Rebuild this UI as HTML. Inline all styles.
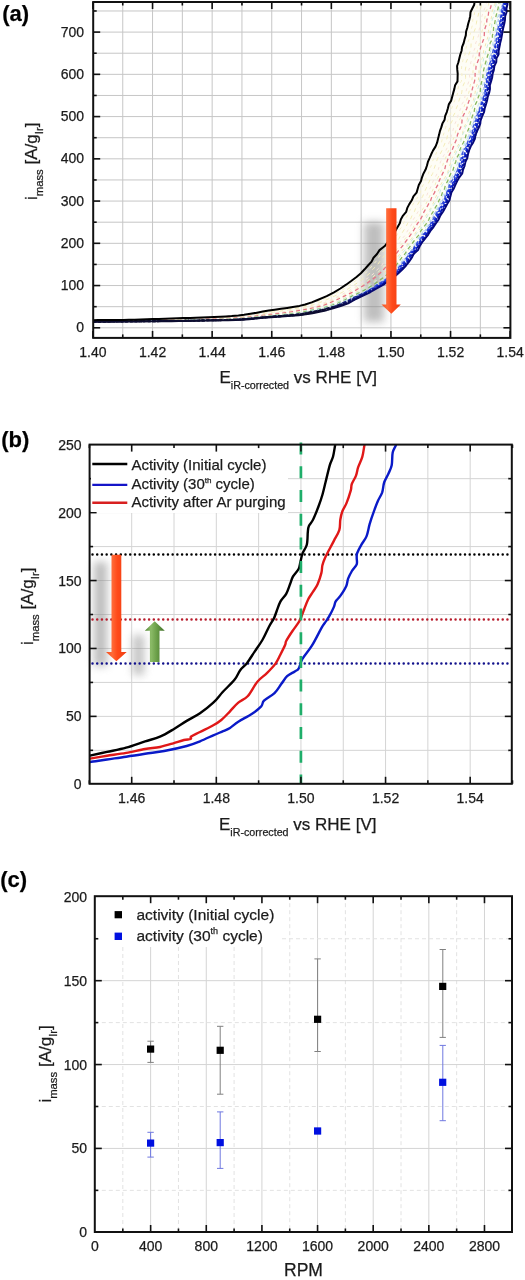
<!DOCTYPE html><html><head><meta charset="utf-8"><style>html,body{margin:0;padding:0;background:#fff;width:525px;height:1280px;overflow:hidden}svg{display:block}text{font-family:'Liberation Sans',Arial,sans-serif;stroke:#222;stroke-width:0.25px}</style></head><body>
<svg width="525" height="1280" viewBox="0 0 525 1280">
<defs><filter id="blur6" x="-100%" y="-20%" width="300%" height="140%"><feGaussianBlur stdDeviation="4"/></filter><linearGradient id="og" x1="0" x2="1" y1="0" y2="0"><stop offset="0" stop-color="#f5501e"/><stop offset="0.3" stop-color="#ff6a38"/><stop offset="0.55" stop-color="#ff4a1a"/><stop offset="1" stop-color="#ee3c10"/></linearGradient><linearGradient id="gg" x1="0" x2="1" y1="0" y2="0"><stop offset="0" stop-color="#4e7f30"/><stop offset="0.3" stop-color="#8cbc68"/><stop offset="0.6" stop-color="#6a9e48"/><stop offset="1" stop-color="#3f6f28"/></linearGradient></defs>
<line x1="122.75000000000003" y1="2.0" x2="122.75000000000003" y2="337.9" stroke="#c6c6c6" stroke-width="1" />
<line x1="152.55000000000007" y1="2.0" x2="152.55000000000007" y2="337.9" stroke="#c6c6c6" stroke-width="1" />
<line x1="182.35000000000008" y1="2.0" x2="182.35000000000008" y2="337.9" stroke="#c6c6c6" stroke-width="1" />
<line x1="212.1500000000001" y1="2.0" x2="212.1500000000001" y2="337.9" stroke="#c6c6c6" stroke-width="1" />
<line x1="241.95000000000016" y1="2.0" x2="241.95000000000016" y2="337.9" stroke="#c6c6c6" stroke-width="1" />
<line x1="271.75000000000017" y1="2.0" x2="271.75000000000017" y2="337.9" stroke="#c6c6c6" stroke-width="1" />
<line x1="301.5500000000002" y1="2.0" x2="301.5500000000002" y2="337.9" stroke="#c6c6c6" stroke-width="1" />
<line x1="331.3500000000002" y1="2.0" x2="331.3500000000002" y2="337.9" stroke="#c6c6c6" stroke-width="1" />
<line x1="361.1500000000002" y1="2.0" x2="361.1500000000002" y2="337.9" stroke="#c6c6c6" stroke-width="1" />
<line x1="390.9500000000003" y1="2.0" x2="390.9500000000003" y2="337.9" stroke="#c6c6c6" stroke-width="1" />
<line x1="420.7500000000003" y1="2.0" x2="420.7500000000003" y2="337.9" stroke="#c6c6c6" stroke-width="1" />
<line x1="450.5500000000003" y1="2.0" x2="450.5500000000003" y2="337.9" stroke="#c6c6c6" stroke-width="1" />
<line x1="480.3499999999997" y1="2.0" x2="480.3499999999997" y2="337.9" stroke="#c6c6c6" stroke-width="1" />
<line x1="93.2" y1="327.8" x2="510.4" y2="327.8" stroke="#c6c6c6" stroke-width="1" />
<line x1="93.2" y1="306.6785" x2="510.4" y2="306.6785" stroke="#c6c6c6" stroke-width="1" />
<line x1="93.2" y1="285.557" x2="510.4" y2="285.557" stroke="#c6c6c6" stroke-width="1" />
<line x1="93.2" y1="264.4355" x2="510.4" y2="264.4355" stroke="#c6c6c6" stroke-width="1" />
<line x1="93.2" y1="243.31400000000002" x2="510.4" y2="243.31400000000002" stroke="#c6c6c6" stroke-width="1" />
<line x1="93.2" y1="222.1925" x2="510.4" y2="222.1925" stroke="#c6c6c6" stroke-width="1" />
<line x1="93.2" y1="201.071" x2="510.4" y2="201.071" stroke="#c6c6c6" stroke-width="1" />
<line x1="93.2" y1="179.9495" x2="510.4" y2="179.9495" stroke="#c6c6c6" stroke-width="1" />
<line x1="93.2" y1="158.828" x2="510.4" y2="158.828" stroke="#c6c6c6" stroke-width="1" />
<line x1="93.2" y1="137.7065" x2="510.4" y2="137.7065" stroke="#c6c6c6" stroke-width="1" />
<line x1="93.2" y1="116.58500000000001" x2="510.4" y2="116.58500000000001" stroke="#c6c6c6" stroke-width="1" />
<line x1="93.2" y1="95.46349999999998" x2="510.4" y2="95.46349999999998" stroke="#c6c6c6" stroke-width="1" />
<line x1="93.2" y1="74.34199999999998" x2="510.4" y2="74.34199999999998" stroke="#c6c6c6" stroke-width="1" />
<line x1="93.2" y1="53.220500000000015" x2="510.4" y2="53.220500000000015" stroke="#c6c6c6" stroke-width="1" />
<line x1="93.2" y1="32.09899999999999" x2="510.4" y2="32.09899999999999" stroke="#c6c6c6" stroke-width="1" />
<line x1="93.2" y1="10.977499999999964" x2="510.4" y2="10.977499999999964" stroke="#c6c6c6" stroke-width="1" />
<clipPath id="clipA"><rect x="93.2" y="2.0" width="417.2" height="335.9"/></clipPath>
<g clip-path="url(#clipA)" fill="none" stroke-linejoin="round">
<path d="M80.0,320.4 L86.1,320.3 L92.2,320.2 L98.3,320.1 L104.4,320.1 L110.5,320.0 L116.6,320.0 L122.7,319.9 L128.8,319.8 L134.9,319.7 L141.0,319.5 L147.1,319.3 L153.1,319.1 L159.2,318.9 L165.3,318.7 L171.4,318.5 L177.5,318.3 L183.6,318.1 L189.7,317.9 L195.8,317.7 L201.9,317.4 L208.0,317.2 L214.1,316.9 L220.2,316.7 L226.3,316.4 L232.4,316.1 L238.5,315.5 L244.6,314.8 L250.7,313.8 L256.8,312.7 L262.9,311.6 L269.0,310.6 L275.1,309.7 L281.2,308.8 L287.3,307.9 L293.3,307.0 L299.4,305.9 L305.5,304.5 L311.6,302.4 L317.7,300.0 L326.4,296.2 L333.8,292.3 L340.4,288.5 L346.2,284.7 L351.3,280.8 L356.1,277.0 L360.6,273.2 L364.6,269.3 L368.0,265.5 L371.1,261.6 L374.0,257.8 L376.8,254.0 L379.8,250.1 L384.1,246.3 L387.7,242.5 L390.7,238.6 L393.1,234.8 L395.3,231.0 L397.3,227.1 L399.3,223.3 L401.2,219.5 L403.1,215.6 L405.0,211.8 L407.1,207.9 L409.3,204.1 L411.6,200.3 L414.2,196.4 L416.1,192.6 L417.7,188.8 L419.2,184.9 L420.7,181.1 L422.2,177.3 L423.8,173.4 L425.4,169.6 L426.8,165.8 L428.1,161.9 L429.6,158.1 L431.6,154.3 L433.5,150.4 L435.2,146.6 L436.7,142.7 L437.9,138.9 L438.9,135.1 L440.0,131.2 L441.3,127.4 L442.7,123.6 L444.1,119.7 L445.4,115.9 L446.7,112.1 L447.9,108.2 L449.2,104.4 L450.6,100.6 L452.3,96.7 L453.4,92.9 L454.2,89.1 L455.3,85.2 L457.4,81.4 L457.9,77.5 L457.5,73.7 L457.3,69.9 L457.5,66.0 L458.1,62.2 L459.2,58.4 L460.6,54.5 L461.5,50.7 L462.0,46.9 L463.2,43.0 L464.8,39.2 L465.6,35.4 L466.1,31.5 L467.1,27.7 L468.3,23.8 L469.3,20.0 L470.0,16.2 L470.9,12.3 L472.9,8.5 L474.2,4.7 L474.8,0.8 L475.5,-3.0 L507.5,-3.0 L506.9,0.8 L506.2,4.7 L505.3,8.5 L504.4,12.3 L503.7,16.2 L503.0,20.0 L502.4,23.8 L501.7,27.7 L501.1,31.5 L500.4,35.4 L499.6,39.2 L498.8,43.0 L498.0,46.9 L497.1,50.7 L496.1,54.5 L495.0,58.4 L493.9,62.2 L492.8,66.0 L491.8,69.9 L491.0,73.7 L490.2,77.5 L489.4,81.4 L488.8,85.2 L488.2,89.1 L487.5,92.9 L486.6,96.7 L485.6,100.6 L484.4,104.4 L483.2,108.2 L482.0,112.1 L480.7,115.9 L479.4,119.7 L478.1,123.6 L476.9,127.4 L475.6,131.2 L474.3,135.1 L472.9,138.9 L471.2,142.7 L469.3,146.6 L467.7,150.4 L466.3,154.3 L465.0,158.1 L463.8,161.9 L462.6,165.8 L461.3,169.6 L459.6,173.4 L457.5,177.3 L455.5,181.1 L453.6,184.9 L451.9,188.8 L450.2,192.6 L448.7,196.4 L447.3,200.3 L445.5,204.1 L443.3,207.9 L441.0,211.8 L438.8,215.6 L436.7,219.5 L434.4,223.3 L431.9,227.1 L429.1,231.0 L426.3,234.8 L423.6,238.6 L420.8,242.5 L418.1,246.3 L415.6,250.1 L412.8,254.0 L410.1,257.8 L407.4,261.6 L404.5,265.5 L401.1,269.3 L397.1,273.2 L392.5,277.0 L387.4,280.8 L381.7,284.7 L375.5,288.5 L368.1,292.3 L360.3,296.2 L352.8,300.0 L345.8,303.3 L338.8,306.0 L331.8,308.2 L324.8,310.0 L317.8,311.5 L310.8,312.9 L303.8,314.2 L296.8,315.0 L289.8,315.6 L282.8,316.1 L275.9,316.6 L268.9,317.1 L261.9,317.7 L254.9,318.4 L247.9,319.1 L240.9,319.5 L233.9,319.9 L226.9,320.1 L219.9,320.2 L212.9,320.4 L205.9,320.5 L198.9,320.6 L191.9,320.7 L184.9,320.9 L177.9,321.0 L170.9,321.1 L163.9,321.1 L156.9,321.2 L149.9,321.3 L143.0,321.4 L136.0,321.4 L129.0,321.5 L122.0,321.5 L115.0,321.6 L108.0,321.6 L101.0,321.6 L94.0,321.7 L87.0,321.7 L80.0,321.8" fill="#fdfbf0" stroke="none" opacity="0.6"/>
<rect x="364" y="222" width="20" height="100" fill="#8a8a8a" opacity="0.55" filter="url(#blur6)"/>
<path d="M80.6,320.6 L85.4,320.5 L92.5,320.4 L98.4,320.3 L104.7,320.3 L111.0,320.2 L116.6,320.2 L123.4,320.1 L129.4,320.0 L136.8,319.9 L142.1,319.7 L148.1,319.5 L154.4,319.3 L160.4,319.1 L166.5,319.0 L172.9,318.8 L179.4,318.6 L185.4,318.4 L192.0,318.2 L197.8,318.0 L204.1,317.8 L210.7,317.5 L216.6,317.3 L222.5,317.0 L228.8,316.7 L235.3,316.3 L241.9,315.8 L247.4,315.1 L253.6,314.2 L260.2,313.1 L265.8,312.1 L272.2,311.2 L278.8,310.3 L284.9,309.3 L290.9,308.4 L297.3,307.4 L302.5,306.2 L309.8,304.7 L315.4,302.5 L321.4,300.0 L330.5,296.2 L338.1,292.3 L344.5,288.5 L350.1,284.7 L355.7,280.8 L360.5,277.0 L365.4,273.2 L369.2,269.3 L372.4,265.5 L375.8,261.6 L378.3,257.8 L380.9,254.0 L384.3,250.1 L388.4,246.3 L391.6,242.5 L394.4,238.6 L397.2,234.8 L398.6,231.0 L401.7,227.1 L403.7,223.3 L405.0,219.5 L407.4,215.6 L409.1,211.8 L411.6,207.9 L413.0,204.1 L415.6,200.3 L418.5,196.4 L420.5,192.6 L421.1,188.8 L423.2,184.9 L425.0,181.1 L426.3,177.3 L428.6,173.4 L429.4,169.6 L431.2,165.8 L432.0,161.9 L434.3,158.1 L435.8,154.3 L437.5,150.4 L438.8,146.6 L441.4,142.7 L442.3,138.9 L443.3,135.1 L444.6,131.2 L445.7,127.4 L446.8,123.6 L448.1,119.7 L449.4,115.9 L451.3,112.1 L451.7,108.2 L453.2,104.4 L454.7,100.6 L456.5,96.7 L457.7,92.9 L457.9,89.1 L458.8,85.2 L461.3,81.4 L462.1,77.5 L461.8,73.7 L461.5,69.9 L461.7,66.0 L462.5,62.2 L463.4,58.4 L465.1,54.5 L465.5,50.7 L466.3,46.9 L467.4,43.0 L469.2,39.2 L469.8,35.4 L471.1,31.5 L471.7,27.7 L472.8,23.8 L472.7,20.0 L474.0,16.2 L474.7,12.3 L477.0,8.5 L477.4,4.7 L479.0,0.8 L479.7,-3.0" stroke="#f6f0c8" stroke-width="1.0" stroke-dasharray="3 4"/>
<path d="M79.6,320.7 L86.0,320.6 L92.4,320.6 L98.9,320.5 L105.4,320.5 L112.2,320.4 L117.8,320.3 L124.4,320.3 L130.5,320.2 L137.3,320.1 L143.3,319.9 L149.8,319.7 L155.4,319.6 L162.0,319.4 L168.1,319.2 L175.1,319.1 L181.2,318.9 L187.2,318.7 L193.5,318.5 L200.1,318.3 L206.0,318.1 L212.3,317.9 L219.0,317.6 L225.9,317.3 L231.4,317.0 L237.6,316.6 L243.7,316.1 L250.0,315.4 L256.9,314.5 L263.3,313.5 L269.3,312.6 L275.8,311.7 L282.0,310.8 L288.3,309.8 L294.1,308.8 L300.8,307.7 L307.2,306.5 L313.3,304.8 L319.7,302.6 L325.9,300.0 L334.4,296.2 L342.3,292.3 L348.7,288.5 L354.7,284.7 L360.2,280.8 L365.1,277.0 L369.9,273.2 L372.7,269.3 L377.0,265.5 L379.7,261.6 L382.7,257.8 L385.7,254.0 L388.7,250.1 L392.6,246.3 L395.7,242.5 L399.0,238.6 L401.0,234.8 L403.3,231.0 L405.9,227.1 L407.6,223.3 L410.4,219.5 L412.0,215.6 L414.3,211.8 L415.8,207.9 L417.9,204.1 L420.2,200.3 L422.7,196.4 L424.1,192.6 L426.0,188.8 L427.5,184.9 L429.5,181.1 L430.5,177.3 L432.7,173.4 L433.8,169.6 L435.1,165.8 L436.4,161.9 L437.7,158.1 L440.0,154.3 L442.0,150.4 L443.5,146.6 L445.2,142.7 L446.8,138.9 L447.5,135.1 L448.6,131.2 L449.8,127.4 L450.7,123.6 L452.8,119.7 L453.3,115.9 L455.4,112.1 L456.4,108.2 L458.0,104.4 L459.0,100.6 L460.3,96.7 L461.7,92.9 L462.2,89.1 L463.3,85.2 L465.1,81.4 L465.6,77.5 L465.5,73.7 L465.3,69.9 L466.0,66.0 L466.1,62.2 L467.8,58.4 L468.8,54.5 L470.3,50.7 L471.0,46.9 L471.1,43.0 L473.2,39.2 L473.9,35.4 L474.2,31.5 L475.6,27.7 L476.3,23.8 L476.9,20.0 L478.0,16.2 L478.9,12.3 L480.7,8.5 L481.5,4.7 L482.7,0.8 L483.4,-3.0" stroke="#f3ecb8" stroke-width="1.0" stroke-dasharray="4 4"/>
<path d="M79.7,320.9 L86.2,320.8 L92.8,320.7 L99.1,320.7 L106.2,320.6 L112.2,320.6 L118.2,320.5 L124.7,320.5 L131.3,320.4 L138.5,320.3 L144.1,320.1 L150.7,320.0 L157.2,319.8 L163.4,319.7 L170.6,319.5 L176.1,319.4 L182.9,319.2 L189.2,319.0 L195.7,318.8 L201.6,318.6 L208.9,318.4 L214.8,318.2 L221.2,318.0 L227.4,317.7 L233.8,317.4 L240.7,316.9 L247.2,316.3 L253.5,315.6 L260.1,314.8 L266.4,314.0 L272.6,313.1 L279.3,312.2 L285.6,311.4 L291.8,310.3 L298.5,309.2 L305.1,308.1 L311.2,306.7 L317.4,305.0 L324.2,302.7 L330.9,300.0 L338.5,296.2 L346.1,292.3 L353.0,288.5 L359.3,284.7 L363.8,280.8 L369.3,277.0 L374.1,273.2 L377.5,269.3 L381.5,265.5 L384.3,261.6 L386.8,257.8 L389.8,254.0 L392.2,250.1 L396.2,246.3 L400.2,242.5 L402.2,238.6 L405.6,234.8 L407.4,231.0 L410.1,227.1 L412.0,223.3 L413.3,219.5 L415.8,215.6 L418.0,211.8 L419.8,207.9 L421.9,204.1 L424.6,200.3 L426.4,196.4 L427.9,192.6 L429.8,188.8 L431.8,184.9 L433.1,181.1 L435.2,177.3 L437.2,173.4 L438.3,169.6 L439.3,165.8 L440.5,161.9 L442.3,158.1 L444.4,154.3 L445.9,150.4 L447.7,146.6 L449.0,142.7 L450.6,138.9 L451.5,135.1 L452.7,131.2 L453.7,127.4 L455.0,123.6 L456.7,119.7 L457.8,115.9 L459.1,112.1 L460.8,108.2 L461.8,104.4 L464.1,100.6 L464.9,96.7 L465.5,92.9 L466.7,89.1 L467.5,85.2 L468.8,81.4 L469.8,77.5 L469.3,73.7 L468.8,69.9 L470.5,66.0 L470.8,62.2 L472.6,58.4 L473.2,54.5 L473.9,50.7 L475.4,46.9 L475.7,43.0 L477.4,39.2 L478.5,35.4 L478.8,31.5 L479.6,27.7 L480.6,23.8 L481.7,20.0 L481.9,16.2 L483.2,12.3 L484.7,8.5 L486.4,4.7 L486.3,0.8 L486.7,-3.0" stroke="#f8e2da" stroke-width="1.0" stroke-dasharray="3 4"/>
<path d="M80.2,321.0 L86.4,320.9 L93.1,320.9 L99.5,320.8 L106.4,320.8 L112.3,320.7 L119.0,320.7 L124.7,320.6 L131.7,320.5 L139.0,320.4 L144.8,320.3 L151.3,320.2 L157.6,320.0 L164.7,319.9 L171.1,319.7 L177.1,319.6 L184.2,319.4 L190.6,319.2 L197.2,319.1 L203.3,318.9 L210.5,318.7 L216.6,318.5 L223.0,318.2 L229.4,318.0 L235.9,317.6 L242.8,317.1 L248.9,316.5 L255.8,315.9 L262.2,315.1 L268.9,314.3 L275.3,313.4 L281.5,312.6 L287.4,311.8 L294.6,310.7 L301.2,309.5 L307.6,308.4 L314.2,306.9 L320.4,305.1 L326.9,302.8 L333.2,300.0 L342.1,296.2 L349.3,292.3 L356.0,288.5 L361.8,284.7 L367.5,280.8 L372.9,277.0 L377.2,273.2 L380.8,269.3 L384.8,265.5 L387.9,261.6 L390.5,257.8 L393.2,254.0 L396.2,250.1 L399.6,246.3 L402.8,242.5 L405.2,238.6 L408.5,234.8 L410.6,231.0 L413.5,227.1 L414.5,223.3 L417.4,219.5 L419.5,215.6 L421.1,211.8 L423.5,207.9 L425.8,204.1 L427.8,200.3 L429.5,196.4 L431.4,192.6 L433.4,188.8 L435.1,184.9 L436.4,181.1 L438.1,177.3 L440.0,173.4 L441.8,169.6 L442.6,165.8 L443.8,161.9 L445.6,158.1 L446.9,154.3 L448.7,150.4 L450.6,146.6 L452.4,142.7 L453.3,138.9 L455.1,135.1 L455.5,131.2 L457.5,127.4 L458.2,123.6 L459.6,119.7 L461.5,115.9 L462.5,112.1 L463.6,108.2 L464.9,104.4 L466.5,100.6 L467.7,96.7 L468.7,92.9 L469.8,89.1 L470.2,85.2 L471.7,81.4 L472.2,77.5 L472.9,73.7 L473.1,69.9 L473.8,66.0 L474.2,62.2 L475.3,58.4 L476.8,54.5 L477.4,50.7 L478.4,46.9 L479.4,43.0 L480.3,39.2 L481.2,35.4 L481.8,31.5 L483.2,27.7 L484.4,23.8 L484.4,20.0 L485.2,16.2 L485.3,12.3 L487.5,8.5 L488.6,4.7 L488.9,0.8 L490.1,-3.0" stroke="#f3ecbc" stroke-width="1.0" stroke-dasharray="3 4"/>
<path d="M79.5,321.1 L86.5,321.1 L93.2,321.0 L99.3,320.9 L106.5,320.9 L113.2,320.8 L119.0,320.8 L125.6,320.7 L132.8,320.7 L139.1,320.6 L145.4,320.5 L152.2,320.3 L158.8,320.2 L165.4,320.0 L172.3,319.9 L178.7,319.8 L185.7,319.6 L192.1,319.4 L198.5,319.3 L205.2,319.1 L211.8,318.9 L218.2,318.7 L224.2,318.5 L231.4,318.2 L237.8,317.8 L244.8,317.3 L250.9,316.7 L257.6,316.0 L264.1,315.3 L271.1,314.5 L277.2,313.7 L283.7,313.0 L290.4,312.1 L296.8,311.0 L303.5,309.8 L310.0,308.6 L316.7,307.1 L323.7,305.3 L329.6,302.9 L336.3,300.0 L344.3,296.2 L352.2,292.3 L358.6,288.5 L364.8,284.7 L370.4,280.8 L375.6,277.0 L380.0,273.2 L383.8,269.3 L387.0,265.5 L390.5,261.6 L393.6,257.8 L396.0,254.0 L398.8,250.1 L402.3,246.3 L405.0,242.5 L408.0,238.6 L410.6,234.8 L413.3,231.0 L415.6,227.1 L417.6,223.3 L420.4,219.5 L422.5,215.6 L424.0,211.8 L426.4,207.9 L428.5,204.1 L430.7,200.3 L432.0,196.4 L434.6,192.6 L435.6,188.8 L437.8,184.9 L439.1,181.1 L440.8,177.3 L442.7,173.4 L444.7,169.6 L445.5,165.8 L446.9,161.9 L448.2,158.1 L449.5,154.3 L452.0,150.4 L453.5,146.6 L455.0,142.7 L456.8,138.9 L457.4,135.1 L458.9,131.2 L460.7,127.4 L461.8,123.6 L462.1,119.7 L463.1,115.9 L465.1,112.1 L466.9,108.2 L467.7,104.4 L469.1,100.6 L470.7,96.7 L471.2,92.9 L472.3,89.1 L473.3,85.2 L474.5,81.4 L475.1,77.5 L475.1,73.7 L475.8,69.9 L476.1,66.0 L477.5,62.2 L479.0,58.4 L479.2,54.5 L479.7,50.7 L480.9,46.9 L482.2,43.0 L483.6,39.2 L484.3,35.4 L484.4,31.5 L485.2,27.7 L486.7,23.8 L486.8,20.0 L488.2,16.2 L488.6,12.3 L490.3,8.5 L491.4,4.7 L492.0,0.8 L492.7,-3.0" stroke="#e57585" stroke-width="1.3" stroke-dasharray="4 3"/>
<path d="M79.7,321.3 L86.8,321.2 L93.3,321.2 L100.1,321.1 L107.1,321.1 L113.3,321.0 L119.8,321.0 L126.5,320.9 L133.3,320.8 L140.3,320.8 L146.5,320.7 L153.7,320.5 L160.1,320.4 L166.7,320.3 L173.0,320.1 L180.1,320.0 L186.9,319.9 L192.9,319.7 L200.4,319.6 L207.2,319.4 L213.5,319.2 L220.2,319.0 L227.5,318.8 L233.8,318.5 L239.8,318.1 L246.8,317.6 L253.4,316.9 L260.1,316.3 L266.1,315.6 L273.7,314.9 L279.9,314.2 L286.9,313.4 L293.4,312.6 L300.4,311.5 L306.7,310.2 L313.2,308.9 L320.3,307.4 L327.3,305.4 L333.4,303.0 L340.6,300.0 L348.2,296.2 L355.6,292.3 L363.3,288.5 L368.7,284.7 L374.7,280.8 L379.3,277.0 L384.1,273.2 L387.6,269.3 L391.1,265.5 L394.6,261.6 L397.2,257.8 L399.8,254.0 L402.5,250.1 L406.0,246.3 L408.5,242.5 L411.4,238.6 L414.3,234.8 L416.7,231.0 L419.2,227.1 L421.8,223.3 L423.9,219.5 L425.9,215.6 L428.5,211.8 L430.6,207.9 L432.8,204.1 L434.4,200.3 L436.1,196.4 L437.5,192.6 L439.4,188.8 L440.6,184.9 L442.8,181.1 L445.0,177.3 L447.2,173.4 L448.6,169.6 L449.4,165.8 L451.1,161.9 L452.0,158.1 L454.0,154.3 L455.4,150.4 L457.3,146.6 L459.5,142.7 L460.6,138.9 L462.3,135.1 L462.9,131.2 L464.0,127.4 L465.8,123.6 L467.2,119.7 L467.8,115.9 L469.3,112.1 L470.1,108.2 L471.7,104.4 L473.3,100.6 L474.2,96.7 L475.1,92.9 L475.6,89.1 L476.9,85.2 L478.2,81.4 L478.7,77.5 L479.0,73.7 L479.0,69.9 L480.6,66.0 L481.0,62.2 L482.1,58.4 L483.5,54.5 L483.6,50.7 L485.0,46.9 L485.9,43.0 L487.2,39.2 L488.3,35.4 L488.6,31.5 L488.7,27.7 L490.0,23.8 L490.9,20.0 L491.6,16.2 L492.0,12.3 L493.1,8.5 L494.8,4.7 L495.4,0.8 L496.0,-3.0" stroke="#f1e6b0" stroke-width="1.0" stroke-dasharray="3 4"/>
<path d="M79.5,321.4 L87.2,321.3 L92.6,321.2 L100.0,321.2 L107.5,321.1 L113.5,321.1 L120.4,321.0 L126.7,321.0 L134.1,320.9 L140.1,320.8 L147.2,320.7 L153.9,320.6 L160.3,320.5 L167.6,320.4 L173.6,320.3 L180.5,320.1 L187.4,320.0 L194.0,319.8 L201.0,319.7 L207.9,319.5 L214.2,319.4 L220.9,319.2 L227.6,318.9 L234.4,318.7 L241.4,318.3 L247.8,317.7 L254.7,317.1 L261.3,316.4 L267.8,315.8 L275.0,315.1 L281.2,314.4 L288.2,313.7 L295.4,312.8 L301.3,311.7 L308.3,310.4 L314.6,309.1 L321.6,307.5 L328.0,305.5 L335.1,303.0 L341.8,300.0 L349.8,296.2 L357.9,292.3 L364.7,288.5 L370.9,284.7 L376.2,280.8 L381.2,277.0 L385.6,273.2 L389.3,269.3 L393.2,265.5 L396.6,261.6 L399.1,257.8 L401.5,254.0 L405.0,250.1 L407.4,246.3 L410.4,242.5 L413.0,238.6 L415.7,234.8 L418.5,231.0 L421.8,227.1 L423.5,223.3 L425.4,219.5 L427.6,215.6 L429.8,211.8 L431.5,207.9 L434.3,204.1 L436.4,200.3 L438.1,196.4 L439.8,192.6 L440.9,188.8 L442.4,184.9 L445.1,181.1 L446.9,177.3 L448.0,173.4 L450.2,169.6 L451.5,165.8 L452.9,161.9 L454.1,158.1 L455.4,154.3 L457.2,150.4 L458.8,146.6 L460.5,142.7 L461.5,138.9 L462.4,135.1 L464.3,131.2 L465.3,127.4 L467.2,123.6 L468.7,119.7 L469.9,115.9 L470.9,112.1 L472.3,108.2 L473.8,104.4 L474.5,100.6 L476.2,96.7 L477.1,92.9 L477.7,89.1 L478.9,85.2 L479.3,81.4 L480.4,77.5 L480.3,73.7 L480.9,69.9 L481.6,66.0 L483.0,62.2 L483.7,58.4 L485.1,54.5 L485.7,50.7 L487.1,46.9 L488.3,43.0 L488.9,39.2 L490.1,35.4 L490.4,31.5 L491.7,27.7 L491.8,23.8 L492.1,20.0 L493.7,16.2 L494.0,12.3 L495.0,8.5 L496.1,4.7 L496.5,0.8 L497.5,-3.0" stroke="#c6ece2" stroke-width="1.0" stroke-dasharray="4 3"/>
<path d="M79.7,321.5 L87.2,321.4 L93.8,321.4 L99.9,321.3 L106.7,321.3 L113.8,321.2 L120.2,321.2 L127.5,321.1 L134.3,321.1 L140.9,321.0 L147.7,320.9 L154.8,320.8 L161.9,320.7 L168.7,320.6 L175.0,320.4 L182.1,320.3 L188.4,320.2 L195.5,320.0 L201.9,319.9 L209.2,319.7 L215.4,319.6 L222.3,319.4 L229.3,319.2 L236.3,318.9 L242.5,318.5 L249.5,317.9 L256.5,317.2 L263.3,316.6 L269.8,316.0 L276.9,315.3 L283.6,314.7 L290.8,314.0 L297.4,313.2 L303.6,312.0 L310.1,310.7 L317.6,309.3 L324.7,307.7 L331.2,305.6 L338.2,303.1 L344.6,300.0 L352.1,296.2 L360.4,292.3 L367.5,288.5 L373.8,284.7 L378.7,280.8 L384.2,277.0 L388.5,273.2 L393.0,269.3 L395.9,265.5 L398.9,261.6 L401.6,257.8 L404.9,254.0 L407.3,250.1 L410.1,246.3 L412.9,242.5 L415.7,238.6 L419.1,234.8 L420.8,231.0 L423.7,227.1 L426.6,223.3 L428.9,219.5 L430.6,215.6 L433.0,211.8 L435.2,207.9 L437.4,204.1 L439.1,200.3 L441.2,196.4 L442.4,192.6 L444.5,188.8 L445.4,184.9 L447.7,181.1 L449.0,177.3 L450.9,173.4 L453.2,169.6 L454.1,165.8 L455.7,161.9 L456.6,158.1 L458.8,154.3 L459.8,150.4 L461.2,146.6 L463.3,142.7 L465.1,138.9 L466.0,135.1 L467.6,131.2 L469.3,127.4 L470.2,123.6 L471.3,119.7 L472.4,115.9 L474.1,112.1 L474.7,108.2 L475.4,104.4 L477.4,100.6 L478.4,96.7 L480.2,92.9 L480.4,89.1 L480.8,85.2 L481.8,81.4 L482.9,77.5 L483.0,73.7 L483.7,69.9 L484.7,66.0 L485.7,62.2 L486.8,58.4 L488.0,54.5 L489.3,50.7 L490.2,46.9 L490.1,43.0 L492.4,39.2 L492.4,35.4 L493.4,31.5 L493.6,27.7 L494.6,23.8 L495.3,20.0 L496.0,16.2 L497.0,12.3 L498.1,8.5 L498.5,4.7 L499.5,0.8 L500.4,-3.0" stroke="#86b85e" stroke-width="1.3" stroke-dasharray="4 3"/>
<path d="M80.2,321.6 L86.8,321.5 L93.6,321.4 L100.5,321.4 L107.1,321.3 L113.8,321.3 L121.5,321.3 L127.8,321.2 L134.8,321.1 L141.4,321.1 L148.8,321.0 L155.8,320.9 L162.1,320.8 L169.1,320.7 L175.6,320.6 L183.2,320.5 L189.8,320.3 L196.1,320.2 L203.6,320.1 L210.1,319.9 L217.0,319.8 L223.8,319.6 L230.3,319.4 L237.2,319.1 L244.4,318.6 L251.1,318.0 L257.6,317.4 L265.4,316.7 L271.5,316.1 L278.3,315.5 L285.1,314.9 L292.3,314.3 L299.3,313.5 L305.9,312.3 L312.9,310.9 L319.0,309.5 L326.2,307.8 L333.0,305.7 L340.0,303.1 L347.0,300.0 L353.9,296.2 L363.2,292.3 L369.3,288.5 L375.8,284.7 L381.5,280.8 L386.6,277.0 L391.0,273.2 L394.1,269.3 L397.9,265.5 L401.5,261.6 L403.7,257.8 L406.4,254.0 L408.8,250.1 L412.7,246.3 L415.4,242.5 L417.7,238.6 L420.7,234.8 L423.3,231.0 L425.7,227.1 L428.4,223.3 L430.7,219.5 L432.9,215.6 L435.3,211.8 L437.1,207.9 L439.2,204.1 L441.3,200.3 L442.6,196.4 L444.0,192.6 L446.4,188.8 L447.7,184.9 L449.6,181.1 L451.7,177.3 L453.2,173.4 L455.4,169.6 L456.7,165.8 L457.7,161.9 L459.1,158.1 L460.2,154.3 L461.2,150.4 L463.5,146.6 L465.0,142.7 L467.2,138.9 L468.4,135.1 L469.4,131.2 L470.8,127.4 L472.5,123.6 L473.8,119.7 L474.8,115.9 L476.1,112.1 L477.1,108.2 L478.4,104.4 L479.8,100.6 L480.8,96.7 L481.8,92.9 L482.1,89.1 L482.6,85.2 L483.5,81.4 L484.6,77.5 L485.7,73.7 L486.3,69.9 L486.5,66.0 L487.4,62.2 L489.2,58.4 L490.2,54.5 L490.6,50.7 L492.2,46.9 L492.8,43.0 L494.1,39.2 L494.6,35.4 L495.4,31.5 L496.0,27.7 L496.3,23.8 L497.2,20.0 L497.8,16.2 L499.0,12.3 L499.5,8.5 L500.3,4.7 L501.6,0.8 L502.4,-3.0" stroke="#bde4f0" stroke-width="1.0" stroke-dasharray="4 3"/>
<path d="M80.6,321.6 L87.3,321.6 L93.2,321.5 L100.4,321.5 L107.3,321.4 L114.4,321.4 L120.4,321.3 L128.1,321.3 L135.1,321.2 L141.5,321.1 L148.8,321.1 L156.1,321.0 L162.6,320.9 L169.8,320.8 L176.7,320.7 L183.3,320.6 L190.2,320.4 L196.8,320.3 L204.3,320.2 L210.5,320.0 L217.3,319.9 L224.7,319.7 L231.0,319.5 L238.4,319.2 L245.5,318.7 L252.0,318.1 L258.9,317.4 L266.1,316.8 L272.9,316.3 L278.8,315.7 L285.8,315.1 L293.8,314.4 L300.3,313.6 L306.1,312.4 L313.3,311.0 L320.7,309.6 L327.2,307.9 L334.7,305.8 L341.4,303.1 L348.4,300.0 L355.4,296.2 L363.9,292.3 L371.7,288.5 L376.8,284.7 L383.2,280.8 L388.2,277.0 L392.7,273.2 L396.4,269.3 L399.3,265.5 L402.3,261.6 L405.7,257.8 L408.5,254.0 L411.4,250.1 L414.1,246.3 L416.9,242.5 L419.1,238.6 L421.5,234.8 L424.8,231.0 L427.6,227.1 L429.9,223.3 L431.5,219.5 L434.0,215.6 L435.7,211.8 L438.6,207.9 L440.4,204.1 L442.6,200.3 L444.3,196.4 L445.8,192.6 L448.0,188.8 L448.7,184.9 L450.1,181.1 L453.3,177.3 L455.5,173.4 L457.2,169.6 L458.1,165.8 L459.4,161.9 L460.5,158.1 L461.3,154.3 L463.0,150.4 L465.1,146.6 L466.5,142.7 L469.1,138.9 L469.1,135.1 L470.8,131.2 L472.7,127.4 L473.3,123.6 L474.4,119.7 L475.6,115.9 L477.1,112.1 L479.2,108.2 L480.0,104.4 L481.3,100.6 L482.0,96.7 L483.4,92.9 L483.8,89.1 L484.1,85.2 L485.1,81.4 L486.1,77.5 L487.1,73.7 L487.3,69.9 L488.4,66.0 L490.1,62.2 L490.1,58.4 L491.0,54.5 L492.8,50.7 L493.5,46.9 L494.1,43.0 L495.2,39.2 L495.7,35.4 L496.8,31.5 L497.1,27.7 L498.3,23.8 L498.2,20.0 L499.0,16.2 L500.1,12.3 L500.9,8.5 L502.3,4.7 L502.7,0.8 L503.1,-3.0" stroke="#8fb0f0" stroke-width="1.2" stroke-dasharray="3 2" opacity="0.8"/>
<linearGradient id="bg1" gradientUnits="userSpaceOnUse" x1="325" y1="0" x2="380" y2="0"><stop offset="0" stop-color="#0c0c30"/><stop offset="1" stop-color="#3a55e0"/></linearGradient>
<path d="M80.1,321.7 L86.7,321.6 L93.2,321.5 L100.3,321.5 L107.3,321.5 L114.4,321.4 L121.5,321.4 L128.7,321.3 L135.5,321.3 L142.9,321.2 L149.6,321.1 L155.9,321.0 L163.5,320.9 L170.3,320.8 L176.5,320.7 L183.7,320.6 L190.9,320.5 L197.5,320.4 L204.7,320.2 L211.4,320.1 L218.4,320.0 L224.9,319.8 L232.1,319.6 L238.7,319.3 L246.0,318.8 L252.0,318.2 L259.7,317.5 L267.0,316.9 L273.6,316.3 L280.3,315.8 L287.4,315.2 L293.7,314.6 L300.6,313.8 L307.7,312.5 L314.7,311.1 L322.1,309.7 L328.2,308.0 L335.9,305.8 L341.8,303.2 L349.0,300.0 L356.9,296.2 L365.1,292.3 L371.8,288.5 L377.3,284.7 L383.9,280.8 L388.9,277.0 L393.1,273.2 L397.1,269.3 L400.5,265.5 L403.8,261.6 L406.8,257.8 L408.6,254.0 L412.9,250.1 L414.7,246.3 L417.4,242.5 L420.6,238.6 L423.1,234.8 L426.7,231.0 L428.9,227.1 L430.8,223.3 L433.0,219.5 L435.1,215.6 L437.3,211.8 L440.0,207.9 L441.6,204.1 L444.4,200.3 L445.2,196.4 L446.7,192.6 L448.8,188.8 L449.4,184.9 L451.6,181.1 L454.2,177.3 L456.0,173.4 L457.7,169.6 L459.2,165.8 L460.0,161.9 L461.4,158.1 L462.3,154.3 L463.5,150.4 L466.5,146.6 L467.4,142.7 L469.1,138.9 L471.4,135.1 L472.5,131.2 L473.1,127.4 L474.4,123.6 L475.9,119.7 L476.8,115.9 L478.7,112.1 L479.8,108.2 L481.0,104.4 L482.4,100.6 L483.5,96.7 L484.8,92.9 L485.4,89.1 L484.8,85.2 L486.6,81.4 L486.5,77.5 L487.1,73.7 L488.7,69.9 L489.0,66.0 L490.2,62.2 L491.9,58.4 L492.3,54.5 L493.2,50.7 L494.5,46.9 L495.7,43.0 L496.4,39.2 L496.3,35.4 L497.3,31.5 L498.2,27.7 L499.7,23.8 L500.0,20.0 L500.7,16.2 L501.6,12.3 L502.0,8.5 L503.2,4.7 L503.9,0.8 L503.9,-3.0" stroke="url(#bg1)" stroke-width="1.4" stroke-dasharray="4 2"/>
<linearGradient id="bg2" gradientUnits="userSpaceOnUse" x1="325" y1="0" x2="380" y2="0"><stop offset="0" stop-color="#0c0c30"/><stop offset="1" stop-color="#1a34d8"/></linearGradient>
<path d="M80.0,321.7 L87.2,321.7 L93.5,321.6 L101.2,321.6 L108.1,321.5 L115.1,321.5 L121.4,321.4 L128.6,321.4 L136.1,321.3 L142.8,321.3 L149.1,321.2 L156.5,321.1 L163.9,321.0 L170.2,320.9 L177.3,320.8 L185.2,320.7 L191.1,320.6 L198.0,320.5 L204.5,320.3 L211.6,320.2 L219.4,320.1 L225.7,319.9 L232.2,319.7 L239.3,319.4 L246.6,318.9 L253.8,318.3 L260.2,317.6 L267.7,317.0 L274.2,316.4 L281.4,315.9 L288.4,315.4 L295.4,314.8 L301.9,314.0 L309.0,312.7 L316.2,311.3 L322.4,309.9 L329.9,308.1 L337.0,305.9 L344.2,303.2 L350.7,300.0 L358.2,296.2 L366.1,292.3 L373.1,288.5 L379.5,284.7 L385.4,280.8 L390.4,277.0 L394.5,273.2 L398.8,269.3 L401.4,265.5 L405.5,261.6 L407.7,257.8 L410.7,254.0 L413.0,250.1 L416.0,246.3 L419.0,242.5 L422.0,238.6 L423.8,234.8 L427.4,231.0 L429.7,227.1 L432.0,223.3 L434.7,219.5 L436.5,215.6 L438.7,211.8 L440.8,207.9 L443.4,204.1 L445.1,200.3 L446.5,196.4 L447.7,192.6 L449.6,188.8 L451.7,184.9 L453.9,181.1 L455.4,177.3 L458.0,173.4 L459.1,169.6 L460.0,165.8 L461.9,161.9 L462.5,158.1 L464.3,154.3 L466.0,150.4 L467.2,146.6 L469.1,142.7 L471.8,138.9 L472.3,135.1 L473.6,131.2 L475.0,127.4 L475.9,123.6 L477.3,119.7 L478.8,115.9 L478.9,112.1 L481.7,108.2 L481.9,104.4 L483.0,100.6 L484.8,96.7 L485.5,92.9 L485.7,89.1 L486.9,85.2 L487.1,81.4 L488.0,77.5 L488.4,73.7 L489.4,69.9 L490.9,66.0 L491.8,62.2 L493.0,58.4 L494.3,54.5 L494.9,50.7 L495.5,46.9 L496.5,43.0 L498.2,39.2 L498.3,35.4 L499.1,31.5 L499.6,27.7 L500.4,23.8 L501.1,20.0 L501.6,16.2 L502.4,12.3 L503.0,8.5 L503.9,4.7 L505.1,0.8 L505.9,-3.0" stroke="url(#bg2)" stroke-width="1.7" stroke-dasharray="3 1.5"/>
<linearGradient id="bg3" gradientUnits="userSpaceOnUse" x1="325" y1="0" x2="380" y2="0"><stop offset="0" stop-color="#0c0c30"/><stop offset="1" stop-color="#0c20c8"/></linearGradient>
<path d="M80.4,321.8 L87.0,321.7 L93.6,321.7 L101.2,321.6 L108.1,321.6 L114.3,321.5 L122.2,321.5 L129.1,321.4 L136.5,321.4 L142.3,321.3 L149.3,321.3 L157.1,321.2 L163.0,321.1 L170.4,321.0 L177.2,320.9 L184.2,320.8 L190.9,320.7 L198.5,320.6 L206.0,320.4 L212.7,320.3 L219.7,320.2 L226.4,320.0 L234.1,319.8 L240.7,319.5 L247.9,319.0 L253.8,318.4 L261.5,317.7 L267.9,317.1 L275.5,316.6 L282.4,316.0 L288.9,315.5 L296.3,314.9 L303.7,314.1 L310.4,312.9 L317.4,311.4 L323.8,310.0 L330.9,308.2 L337.7,305.9 L345.2,303.2 L352.6,300.0 L359.8,296.2 L367.4,292.3 L374.4,288.5 L381.2,284.7 L386.5,280.8 L391.0,277.0 L395.7,273.2 L400.3,269.3 L403.4,265.5 L407.3,261.6 L409.4,257.8 L411.6,254.0 L414.7,250.1 L418.1,246.3 L419.8,242.5 L423.2,238.6 L425.8,234.8 L429.0,231.0 L431.4,227.1 L433.6,223.3 L436.2,219.5 L438.1,215.6 L440.7,211.8 L442.5,207.9 L445.5,204.1 L446.5,200.3 L448.2,196.4 L449.2,192.6 L451.2,188.8 L453.0,184.9 L454.8,181.1 L457.2,177.3 L458.6,173.4 L460.2,169.6 L462.3,165.8 L463.0,161.9 L464.0,158.1 L466.0,154.3 L467.3,150.4 L467.6,146.6 L470.3,142.7 L472.5,138.9 L474.0,135.1 L474.7,131.2 L476.8,127.4 L477.1,123.6 L478.6,119.7 L480.1,115.9 L481.3,112.1 L482.8,108.2 L484.1,104.4 L484.9,100.6 L486.5,96.7 L486.6,92.9 L487.4,89.1 L488.8,85.2 L488.9,81.4 L490.0,77.5 L490.1,73.7 L491.1,69.9 L492.1,66.0 L493.3,62.2 L494.2,58.4 L495.4,54.5 L496.6,50.7 L497.7,46.9 L498.1,43.0 L499.2,39.2 L500.0,35.4 L500.0,31.5 L500.4,27.7 L502.3,23.8 L502.9,20.0 L503.0,16.2 L503.9,12.3 L504.3,8.5 L505.0,4.7 L506.4,0.8 L506.3,-3.0" stroke="url(#bg3)" stroke-width="1.9" stroke-dasharray="4 1.5"/>
<linearGradient id="bg4" gradientUnits="userSpaceOnUse" x1="325" y1="0" x2="380" y2="0"><stop offset="0" stop-color="#0c0c30"/><stop offset="1" stop-color="#0818b0"/></linearGradient>
<path d="M80.4,321.8 L86.8,321.8 L94.2,321.7 L101.8,321.7 L108.8,321.6 L115.0,321.6 L122.5,321.6 L128.7,321.5 L135.9,321.5 L143.3,321.4 L150.7,321.3 L156.9,321.3 L164.4,321.2 L171.2,321.1 L177.7,321.0 L185.1,320.9 L192.8,320.8 L199.2,320.7 L206.4,320.5 L213.6,320.4 L220.0,320.3 L227.8,320.1 L234.9,319.9 L241.9,319.6 L248.8,319.1 L255.1,318.5 L262.1,317.8 L269.0,317.2 L276.0,316.7 L283.1,316.2 L290.8,315.7 L298.0,315.1 L304.2,314.3 L311.8,313.0 L317.9,311.6 L325.3,310.1 L332.1,308.3 L338.8,306.0 L346.5,303.3 L353.5,300.0 L360.8,296.2 L368.6,292.3 L375.8,288.5 L382.4,284.7 L387.8,280.8 L393.3,277.0 L397.4,273.2 L401.9,269.3 L405.4,265.5 L408.6,261.6 L411.3,257.8 L413.6,254.0 L416.0,250.1 L418.1,246.3 L421.5,242.5 L424.8,238.6 L427.7,234.8 L428.8,231.0 L432.3,227.1 L435.0,223.3 L437.0,219.5 L439.6,215.6 L441.7,211.8 L443.8,207.9 L446.2,204.1 L447.3,200.3 L449.0,196.4 L450.5,192.6 L452.9,188.8 L453.7,184.9 L456.1,181.1 L458.5,177.3 L460.3,173.4 L462.3,169.6 L463.1,165.8 L464.7,161.9 L466.1,158.1 L467.8,154.3 L468.6,150.4 L470.6,146.6 L471.9,142.7 L473.6,138.9 L475.7,135.1 L476.6,131.2 L478.1,127.4 L479.1,123.6 L481.0,119.7 L482.4,115.9 L482.4,112.1 L484.7,108.2 L485.3,104.4 L486.5,100.6 L487.3,96.7 L488.5,92.9 L488.4,89.1 L489.2,85.2 L489.8,81.4 L491.0,77.5 L492.0,73.7 L492.8,69.9 L493.7,66.0 L494.4,62.2 L495.1,58.4 L497.0,54.5 L497.8,50.7 L498.8,46.9 L500.1,43.0 L500.2,39.2 L501.0,35.4 L500.9,31.5 L502.7,27.7 L503.0,23.8 L503.4,20.0 L504.5,16.2 L504.7,12.3 L505.7,8.5 L507.6,4.7 L507.8,0.8 L508.5,-3.0" stroke="url(#bg4)" stroke-width="1.7" stroke-dasharray="3 1.5"/>
<linearGradient id="bg5" gradientUnits="userSpaceOnUse" x1="325" y1="0" x2="380" y2="0"><stop offset="0" stop-color="#0c0c30"/><stop offset="1" stop-color="#06087a"/></linearGradient>
<path d="M80.3,321.9 L87.3,321.8 L94.2,321.8 L102.0,321.7 L108.1,321.7 L115.5,321.6 L122.2,321.6 L129.1,321.6 L135.4,321.5 L142.6,321.4 L151.0,321.4 L158.0,321.3 L164.3,321.2 L171.5,321.2 L178.8,321.1 L185.2,321.0 L193.4,320.9 L199.3,320.7 L206.4,320.6 L212.7,320.5 L221.4,320.4 L227.9,320.2 L235.5,320.0 L241.5,319.7 L249.1,319.2 L256.0,318.6 L263.1,317.8 L270.9,317.2 L278.0,316.8 L284.7,316.3 L291.0,315.8 L298.6,315.2 L305.8,314.4 L312.5,313.2 L319.6,311.7 L326.6,310.2 L333.1,308.3 L340.6,306.0 L348.2,303.3 L354.2,300.0 L362.0,296.2 L370.1,292.3 L376.7,288.5 L383.5,284.7 L388.5,280.8 L394.1,277.0 L398.4,273.2 L402.6,269.3 L406.1,265.5 L409.1,261.6 L411.8,257.8 L413.6,254.0 L418.0,250.1 L419.7,246.3 L422.0,242.5 L425.0,238.6 L428.1,234.8 L430.4,231.0 L433.5,227.1 L436.0,223.3 L438.7,219.5 L440.3,215.6 L443.0,211.8 L445.2,207.9 L447.2,204.1 L449.5,200.3 L450.4,196.4 L451.4,192.6 L453.7,188.8 L455.4,184.9 L457.2,181.1 L459.3,177.3 L462.3,173.4 L463.1,169.6 L464.6,165.8 L465.5,161.9 L467.3,158.1 L468.0,154.3 L469.1,150.4 L470.6,146.6 L473.1,142.7 L474.9,138.9 L475.5,135.1 L477.1,131.2 L478.9,127.4 L480.3,123.6 L480.7,119.7 L482.3,115.9 L484.1,112.1 L484.8,108.2 L486.0,104.4 L487.1,100.6 L487.8,96.7 L489.2,92.9 L490.0,89.1 L489.9,85.2 L491.1,81.4 L492.2,77.5 L492.7,73.7 L493.9,69.9 L494.4,66.0 L496.3,62.2 L496.5,58.4 L498.6,54.5 L498.7,50.7 L499.5,46.9 L500.2,43.0 L501.2,39.2 L501.9,35.4 L502.6,31.5 L503.3,27.7 L504.3,23.8 L505.0,20.0 L505.2,16.2 L506.6,12.3 L506.5,8.5 L507.3,4.7 L508.0,0.8 L509.3,-3.0" stroke="url(#bg5)" stroke-width="1.9"/>
<linearGradient id="bg6" gradientUnits="userSpaceOnUse" x1="325" y1="0" x2="380" y2="0"><stop offset="0" stop-color="#0c0c30"/><stop offset="1" stop-color="#000a90"/></linearGradient>
<path d="M79.4,321.8 L86.4,321.7 L94.5,321.7 L101.7,321.6 L108.5,321.6 L114.4,321.6 L122.0,321.5 L129.3,321.5 L136.0,321.4 L142.3,321.4 L149.8,321.3 L156.3,321.2 L163.4,321.1 L171.8,321.1 L178.2,321.0 L184.3,320.9 L191.3,320.7 L199.1,320.6 L205.7,320.5 L213.1,320.4 L219.6,320.2 L226.8,320.1 L234.0,319.9 L240.5,319.5 L247.1,319.1 L254.4,318.4 L261.6,317.7 L268.8,317.1 L275.8,316.6 L282.8,316.1 L290.0,315.6 L296.5,315.0 L304.4,314.2 L311.6,312.9 L318.0,311.5 L324.9,310.0 L332.3,308.2 L339.1,306.0 L345.9,303.3 L352.7,300.0 L360.0,296.2 L367.6,292.3 L375.8,288.5 L382.2,284.7 L386.9,280.8 L392.5,277.0 L397.2,273.2 L400.9,269.3 L404.1,265.5 L407.2,261.6 L409.3,257.8 L412.8,254.0 L415.4,250.1 L418.9,246.3 L421.2,242.5 L423.4,238.6 L426.3,234.8 L429.8,231.0 L432.5,227.1 L434.5,223.3 L436.6,219.5 L438.2,215.6 L440.8,211.8 L443.2,207.9 L445.2,204.1 L448.0,200.3 L447.9,196.4 L450.1,192.6 L452.0,188.8 L453.8,184.9 L456.1,181.1 L456.9,177.3 L459.3,173.4 L461.3,169.6 L462.7,165.8 L463.7,161.9 L464.7,158.1 L466.7,154.3 L467.2,150.4 L469.1,146.6 L471.7,142.7 L473.6,138.9 L474.7,135.1 L475.3,131.2 L476.5,127.4 L477.7,123.6 L479.0,119.7 L480.6,115.9 L482.5,112.1 L483.3,108.2 L484.1,104.4 L485.3,100.6 L486.1,96.7 L488.0,92.9 L487.4,89.1 L488.9,85.2 L488.9,81.4 L489.8,77.5 L490.4,73.7 L492.2,69.9 L492.8,66.0 L495.0,62.2 L494.6,58.4 L495.6,54.5 L497.3,50.7 L498.2,46.9 L498.7,43.0 L498.8,39.2 L500.9,35.4 L501.3,31.5 L501.9,27.7 L502.1,23.8 L503.2,20.0 L503.4,16.2 L504.4,12.3 L505.2,8.5 L506.6,4.7 L506.7,0.8 L507.3,-3.0" stroke="url(#bg6)" stroke-width="1.0" stroke-dasharray="2 3"/>
<path d="M80.3,320.4 L86.1,320.3 L92.2,320.2 L98.2,320.1 L104.7,320.1 L110.3,320.0 L116.7,320.0 L123.3,319.9 L128.9,319.8 L134.6,319.7 L140.6,319.5 L147.1,319.3 L152.8,319.1 L158.7,318.9 L165.1,318.7 L171.1,318.5 L177.8,318.3 L183.2,318.1 L190.2,317.9 L195.6,317.7 L201.9,317.4 L208.2,317.2 L214.2,316.9 L220.4,316.7 L226.0,316.4 L231.7,316.1 L238.4,315.5 L244.1,314.8 L250.5,313.8 L257.0,312.7 L262.8,311.6 L268.8,310.6 L274.7,309.7 L281.0,308.8 L287.2,307.9 L292.8,307.0 L299.5,305.9 L305.2,304.5 L311.7,302.4 L317.6,300.0 L326.7,296.2 L334.0,292.3 L340.4,288.5 L346.1,284.7 L351.5,280.8 L356.5,277.0 L360.9,273.2 L364.6,269.3 L368.0,265.5 L371.6,261.6 L373.5,257.8 L377.0,254.0 L379.5,250.1 L384.5,246.3 L387.5,242.5 L390.6,238.6 L392.8,234.8 L395.3,231.0 L397.6,227.1 L399.8,223.3 L400.8,219.5 L403.0,215.6 L406.2,211.8 L407.3,207.9 L409.3,204.1 L411.8,200.3 L413.4,196.4 L416.6,192.6 L417.7,188.8 L418.8,184.9 L421.0,181.1 L422.0,177.3 L423.5,173.4 L425.6,169.6 L426.9,165.8 L427.9,161.9 L429.6,158.1 L431.2,154.3 L433.1,150.4 L435.5,146.6 L437.1,142.7 L438.0,138.9 L439.0,135.1 L439.9,131.2 L441.3,127.4 L442.4,123.6 L444.6,119.7 L445.2,115.9 L446.8,112.1 L447.9,108.2 L448.8,104.4 L451.2,100.6 L452.2,96.7 L453.2,92.9 L454.3,89.1 L455.1,85.2 L457.5,81.4 L457.6,77.5 L457.7,73.7 L457.3,69.9 L457.1,66.0 L458.4,62.2 L459.3,58.4 L460.3,54.5 L461.6,50.7 L462.1,46.9 L463.7,43.0 L464.6,39.2 L465.8,35.4 L466.1,31.5 L467.3,27.7 L468.2,23.8 L469.3,20.0 L470.2,16.2 L470.5,12.3 L472.3,8.5 L474.2,4.7 L474.7,0.8 L475.5,-3.0" stroke="#000" stroke-width="2"/>
</g>
<path d="M386.2,208.3 L396.5,208.3 L396.5,304.6 L400.8,304.6 L391.35,313.7 L381.5,304.6 L386.2,304.6 Z" fill="url(#og)"/>
<rect x="93.2" y="2.0" width="417.2" height="335.9" fill="none" stroke="#111" stroke-width="2"/>
<line x1="92.95" y1="337.9" x2="92.95" y2="330.9" stroke="#111" stroke-width="1.6" />
<line x1="92.95" y1="2.0" x2="92.95" y2="9.0" stroke="#111" stroke-width="1.6" />
<line x1="122.75000000000003" y1="337.9" x2="122.75000000000003" y2="334.4" stroke="#111" stroke-width="1.6" />
<line x1="122.75000000000003" y1="2.0" x2="122.75000000000003" y2="5.5" stroke="#111" stroke-width="1.6" />
<line x1="152.55000000000007" y1="337.9" x2="152.55000000000007" y2="330.9" stroke="#111" stroke-width="1.6" />
<line x1="152.55000000000007" y1="2.0" x2="152.55000000000007" y2="9.0" stroke="#111" stroke-width="1.6" />
<line x1="182.35000000000008" y1="337.9" x2="182.35000000000008" y2="334.4" stroke="#111" stroke-width="1.6" />
<line x1="182.35000000000008" y1="2.0" x2="182.35000000000008" y2="5.5" stroke="#111" stroke-width="1.6" />
<line x1="212.1500000000001" y1="337.9" x2="212.1500000000001" y2="330.9" stroke="#111" stroke-width="1.6" />
<line x1="212.1500000000001" y1="2.0" x2="212.1500000000001" y2="9.0" stroke="#111" stroke-width="1.6" />
<line x1="241.95000000000016" y1="337.9" x2="241.95000000000016" y2="334.4" stroke="#111" stroke-width="1.6" />
<line x1="241.95000000000016" y1="2.0" x2="241.95000000000016" y2="5.5" stroke="#111" stroke-width="1.6" />
<line x1="271.75000000000017" y1="337.9" x2="271.75000000000017" y2="330.9" stroke="#111" stroke-width="1.6" />
<line x1="271.75000000000017" y1="2.0" x2="271.75000000000017" y2="9.0" stroke="#111" stroke-width="1.6" />
<line x1="301.5500000000002" y1="337.9" x2="301.5500000000002" y2="334.4" stroke="#111" stroke-width="1.6" />
<line x1="301.5500000000002" y1="2.0" x2="301.5500000000002" y2="5.5" stroke="#111" stroke-width="1.6" />
<line x1="331.3500000000002" y1="337.9" x2="331.3500000000002" y2="330.9" stroke="#111" stroke-width="1.6" />
<line x1="331.3500000000002" y1="2.0" x2="331.3500000000002" y2="9.0" stroke="#111" stroke-width="1.6" />
<line x1="361.1500000000002" y1="337.9" x2="361.1500000000002" y2="334.4" stroke="#111" stroke-width="1.6" />
<line x1="361.1500000000002" y1="2.0" x2="361.1500000000002" y2="5.5" stroke="#111" stroke-width="1.6" />
<line x1="390.9500000000003" y1="337.9" x2="390.9500000000003" y2="330.9" stroke="#111" stroke-width="1.6" />
<line x1="390.9500000000003" y1="2.0" x2="390.9500000000003" y2="9.0" stroke="#111" stroke-width="1.6" />
<line x1="420.7500000000003" y1="337.9" x2="420.7500000000003" y2="334.4" stroke="#111" stroke-width="1.6" />
<line x1="420.7500000000003" y1="2.0" x2="420.7500000000003" y2="5.5" stroke="#111" stroke-width="1.6" />
<line x1="450.5500000000003" y1="337.9" x2="450.5500000000003" y2="330.9" stroke="#111" stroke-width="1.6" />
<line x1="450.5500000000003" y1="2.0" x2="450.5500000000003" y2="9.0" stroke="#111" stroke-width="1.6" />
<line x1="480.3499999999997" y1="337.9" x2="480.3499999999997" y2="334.4" stroke="#111" stroke-width="1.6" />
<line x1="480.3499999999997" y1="2.0" x2="480.3499999999997" y2="5.5" stroke="#111" stroke-width="1.6" />
<line x1="510.1500000000004" y1="337.9" x2="510.1500000000004" y2="330.9" stroke="#111" stroke-width="1.6" />
<line x1="510.1500000000004" y1="2.0" x2="510.1500000000004" y2="9.0" stroke="#111" stroke-width="1.6" />
<line x1="93.2" y1="327.8" x2="100.2" y2="327.8" stroke="#111" stroke-width="1.6" />
<line x1="510.4" y1="327.8" x2="503.4" y2="327.8" stroke="#111" stroke-width="1.6" />
<line x1="93.2" y1="306.6785" x2="96.7" y2="306.6785" stroke="#111" stroke-width="1.6" />
<line x1="510.4" y1="306.6785" x2="506.9" y2="306.6785" stroke="#111" stroke-width="1.6" />
<line x1="93.2" y1="285.557" x2="100.2" y2="285.557" stroke="#111" stroke-width="1.6" />
<line x1="510.4" y1="285.557" x2="503.4" y2="285.557" stroke="#111" stroke-width="1.6" />
<line x1="93.2" y1="264.4355" x2="96.7" y2="264.4355" stroke="#111" stroke-width="1.6" />
<line x1="510.4" y1="264.4355" x2="506.9" y2="264.4355" stroke="#111" stroke-width="1.6" />
<line x1="93.2" y1="243.31400000000002" x2="100.2" y2="243.31400000000002" stroke="#111" stroke-width="1.6" />
<line x1="510.4" y1="243.31400000000002" x2="503.4" y2="243.31400000000002" stroke="#111" stroke-width="1.6" />
<line x1="93.2" y1="222.1925" x2="96.7" y2="222.1925" stroke="#111" stroke-width="1.6" />
<line x1="510.4" y1="222.1925" x2="506.9" y2="222.1925" stroke="#111" stroke-width="1.6" />
<line x1="93.2" y1="201.071" x2="100.2" y2="201.071" stroke="#111" stroke-width="1.6" />
<line x1="510.4" y1="201.071" x2="503.4" y2="201.071" stroke="#111" stroke-width="1.6" />
<line x1="93.2" y1="179.9495" x2="96.7" y2="179.9495" stroke="#111" stroke-width="1.6" />
<line x1="510.4" y1="179.9495" x2="506.9" y2="179.9495" stroke="#111" stroke-width="1.6" />
<line x1="93.2" y1="158.828" x2="100.2" y2="158.828" stroke="#111" stroke-width="1.6" />
<line x1="510.4" y1="158.828" x2="503.4" y2="158.828" stroke="#111" stroke-width="1.6" />
<line x1="93.2" y1="137.7065" x2="96.7" y2="137.7065" stroke="#111" stroke-width="1.6" />
<line x1="510.4" y1="137.7065" x2="506.9" y2="137.7065" stroke="#111" stroke-width="1.6" />
<line x1="93.2" y1="116.58500000000001" x2="100.2" y2="116.58500000000001" stroke="#111" stroke-width="1.6" />
<line x1="510.4" y1="116.58500000000001" x2="503.4" y2="116.58500000000001" stroke="#111" stroke-width="1.6" />
<line x1="93.2" y1="95.46349999999998" x2="96.7" y2="95.46349999999998" stroke="#111" stroke-width="1.6" />
<line x1="510.4" y1="95.46349999999998" x2="506.9" y2="95.46349999999998" stroke="#111" stroke-width="1.6" />
<line x1="93.2" y1="74.34199999999998" x2="100.2" y2="74.34199999999998" stroke="#111" stroke-width="1.6" />
<line x1="510.4" y1="74.34199999999998" x2="503.4" y2="74.34199999999998" stroke="#111" stroke-width="1.6" />
<line x1="93.2" y1="53.220500000000015" x2="96.7" y2="53.220500000000015" stroke="#111" stroke-width="1.6" />
<line x1="510.4" y1="53.220500000000015" x2="506.9" y2="53.220500000000015" stroke="#111" stroke-width="1.6" />
<line x1="93.2" y1="32.09899999999999" x2="100.2" y2="32.09899999999999" stroke="#111" stroke-width="1.6" />
<line x1="510.4" y1="32.09899999999999" x2="503.4" y2="32.09899999999999" stroke="#111" stroke-width="1.6" />
<line x1="93.2" y1="10.977499999999964" x2="96.7" y2="10.977499999999964" stroke="#111" stroke-width="1.6" />
<line x1="510.4" y1="10.977499999999964" x2="506.9" y2="10.977499999999964" stroke="#111" stroke-width="1.6" />
<text x="84" y="332.40000000000003" font-size="14" text-anchor="end" font-weight="normal" fill="#1a1a1a" >0</text>
<text x="84" y="290.15700000000004" font-size="14" text-anchor="end" font-weight="normal" fill="#1a1a1a" >100</text>
<text x="84" y="247.91400000000002" font-size="14" text-anchor="end" font-weight="normal" fill="#1a1a1a" >200</text>
<text x="84" y="205.671" font-size="14" text-anchor="end" font-weight="normal" fill="#1a1a1a" >300</text>
<text x="84" y="163.428" font-size="14" text-anchor="end" font-weight="normal" fill="#1a1a1a" >400</text>
<text x="84" y="121.185" font-size="14" text-anchor="end" font-weight="normal" fill="#1a1a1a" >500</text>
<text x="84" y="78.94199999999998" font-size="14" text-anchor="end" font-weight="normal" fill="#1a1a1a" >600</text>
<text x="84" y="36.69899999999999" font-size="14" text-anchor="end" font-weight="normal" fill="#1a1a1a" >700</text>
<text x="92.95" y="357" font-size="14" text-anchor="middle" font-weight="normal" fill="#1a1a1a" >1.40</text>
<text x="152.55000000000007" y="357" font-size="14" text-anchor="middle" font-weight="normal" fill="#1a1a1a" >1.42</text>
<text x="212.1500000000001" y="357" font-size="14" text-anchor="middle" font-weight="normal" fill="#1a1a1a" >1.44</text>
<text x="271.75000000000017" y="357" font-size="14" text-anchor="middle" font-weight="normal" fill="#1a1a1a" >1.46</text>
<text x="331.3500000000002" y="357" font-size="14" text-anchor="middle" font-weight="normal" fill="#1a1a1a" >1.48</text>
<text x="390.9500000000003" y="357" font-size="14" text-anchor="middle" font-weight="normal" fill="#1a1a1a" >1.50</text>
<text x="450.5500000000003" y="357" font-size="14" text-anchor="middle" font-weight="normal" fill="#1a1a1a" >1.52</text>
<text x="510.1500000000004" y="357" font-size="14" text-anchor="middle" font-weight="normal" fill="#1a1a1a" >1.54</text>
<text y="383" font-size="17" fill="#1a1a1a"><tspan x="219.5">E</tspan><tspan font-size="10.7" dy="5.5">iR-corrected</tspan><tspan dy="-5.5"> vs RHE </tspan><tspan x="356.3">[V]</tspan></text>
<text transform="translate(36.7,200) rotate(-90)" font-size="17" fill="#1a1a1a">i<tspan font-size="11.3" dy="6">mass</tspan><tspan dy="-6"> [A/g</tspan><tspan font-size="11.3" dy="6">Ir</tspan><tspan dy="-6">]</tspan></text>
<text x="2.2" y="20.8" font-size="22" text-anchor="start" font-weight="bold" fill="#000" >(a)</text>
<line x1="131.7" y1="444.6" x2="131.7" y2="783.8" stroke="#d4d4d4" stroke-width="1" />
<line x1="174.01000000000002" y1="444.6" x2="174.01000000000002" y2="783.8" stroke="#d4d4d4" stroke-width="1" />
<line x1="216.32000000000005" y1="444.6" x2="216.32000000000005" y2="783.8" stroke="#d4d4d4" stroke-width="1" />
<line x1="258.6300000000001" y1="444.6" x2="258.6300000000001" y2="783.8" stroke="#d4d4d4" stroke-width="1" />
<line x1="300.94000000000017" y1="444.6" x2="300.94000000000017" y2="783.8" stroke="#d4d4d4" stroke-width="1" />
<line x1="343.25000000000017" y1="444.6" x2="343.25000000000017" y2="783.8" stroke="#d4d4d4" stroke-width="1" />
<line x1="385.5600000000002" y1="444.6" x2="385.5600000000002" y2="783.8" stroke="#d4d4d4" stroke-width="1" />
<line x1="427.87000000000023" y1="444.6" x2="427.87000000000023" y2="783.8" stroke="#d4d4d4" stroke-width="1" />
<line x1="470.1800000000003" y1="444.6" x2="470.1800000000003" y2="783.8" stroke="#d4d4d4" stroke-width="1" />
<line x1="89.6" y1="750.3399999999999" x2="511.8" y2="750.3399999999999" stroke="#d4d4d4" stroke-width="1" />
<line x1="89.6" y1="716.38" x2="511.8" y2="716.38" stroke="#d4d4d4" stroke-width="1" />
<line x1="89.6" y1="682.42" x2="511.8" y2="682.42" stroke="#d4d4d4" stroke-width="1" />
<line x1="89.6" y1="648.4599999999999" x2="511.8" y2="648.4599999999999" stroke="#d4d4d4" stroke-width="1" />
<line x1="89.6" y1="614.5" x2="511.8" y2="614.5" stroke="#d4d4d4" stroke-width="1" />
<line x1="89.6" y1="580.54" x2="511.8" y2="580.54" stroke="#d4d4d4" stroke-width="1" />
<line x1="89.6" y1="546.5799999999999" x2="511.8" y2="546.5799999999999" stroke="#d4d4d4" stroke-width="1" />
<line x1="89.6" y1="512.6199999999999" x2="511.8" y2="512.6199999999999" stroke="#d4d4d4" stroke-width="1" />
<line x1="89.6" y1="478.65999999999997" x2="511.8" y2="478.65999999999997" stroke="#d4d4d4" stroke-width="1" />
<rect x="89.6" y="444.6" width="198.4" height="68.39999999999998" fill="#fff"/>
<rect x="94" y="562" width="13" height="104" fill="#909090" opacity="0.6" filter="url(#blur6)"/>
<rect x="133" y="635" width="11" height="40" fill="#909090" opacity="0.55" filter="url(#blur6)"/>
<line x1="92.5" y1="554.5" x2="510.8" y2="554.5" stroke="#000" stroke-width="2.5" stroke-dasharray="0.01 4.705" stroke-linecap="round"/>
<line x1="92.5" y1="619.5" x2="510.8" y2="619.5" stroke="#b81c2c" stroke-width="2.5" stroke-dasharray="0.01 4.705" stroke-linecap="round"/>
<line x1="92.5" y1="663.6" x2="510.8" y2="663.6" stroke="#12128c" stroke-width="2.5" stroke-dasharray="0.01 4.705" stroke-linecap="round"/>
<clipPath id="clipB"><rect x="89.6" y="444.6" width="422.20000000000005" height="339.19999999999993"/></clipPath>
<g clip-path="url(#clipB)" fill="none" stroke-linejoin="round" stroke-width="2.4">
<path d="M85.0,763.0 C85.8,762.8 86.2,762.6 89.9,762.0 C93.6,761.4 101.0,760.4 107.0,759.5 C113.0,758.6 119.8,757.7 126.1,756.7 C132.4,755.8 138.8,754.8 145.1,753.8 C151.4,752.8 157.3,752.3 164.2,751.0 C171.1,749.7 180.7,747.6 186.7,746.0 C192.7,744.4 195.6,743.1 200.0,741.3 C204.4,739.5 209.5,737.0 213.3,735.3 C217.2,733.6 220.3,732.4 223.1,731.2 C225.9,730.0 227.5,729.6 230.0,728.0 C232.5,726.4 234.7,724.0 238.3,721.7 C241.9,719.4 247.9,716.5 251.7,714.0 C255.5,711.5 259.1,708.6 261.2,706.4 C263.2,704.2 261.8,702.9 264.0,700.7 C266.2,698.5 271.6,695.9 274.5,693.1 C277.4,690.3 279.3,686.6 281.4,683.8 C283.5,681.0 284.9,678.3 287.1,676.2 C289.3,674.1 292.9,672.7 294.8,671.4 C296.7,670.1 297.3,670.7 298.6,668.6 C299.9,666.5 300.2,662.8 302.4,659.0 C304.6,655.2 308.7,650.9 311.9,645.7 C315.1,640.6 319.2,632.0 321.4,628.1 C323.6,624.2 323.9,624.3 325.2,622.4 C326.5,620.5 327.6,619.2 329.0,616.7 C330.4,614.2 332.7,609.7 333.8,607.1 C334.9,604.5 334.6,603.3 335.7,601.4 C336.8,599.5 338.8,598.2 340.5,595.7 C342.2,593.2 344.9,589.1 346.2,586.2 C347.5,583.4 347.2,581.1 348.1,578.6 C349.1,576.1 350.5,573.4 351.9,571.0 C353.3,568.6 355.9,566.5 356.7,564.3 C357.5,562.1 356.6,559.5 356.7,557.6 C356.8,555.8 356.3,555.3 357.1,553.2 C357.9,551.1 359.7,547.6 361.3,544.8 C362.9,542.0 365.1,539.9 366.5,536.4 C367.9,532.9 368.5,528.1 369.7,523.9 C370.9,519.7 372.5,515.1 373.9,511.3 C375.3,507.5 376.6,504.0 378.0,500.8 C379.4,497.6 381.1,495.5 382.2,492.4 C383.2,489.3 383.2,485.1 384.3,482.0 C385.4,478.9 387.3,476.3 388.5,473.5 C389.7,470.7 391.0,468.7 391.7,465.2 C392.4,461.7 392.0,455.9 392.7,452.6 C393.4,449.3 395.2,447.3 395.9,445.2 C396.6,443.1 396.8,440.9 397.0,440.0" stroke="#0a1ac8"/>
<path d="M85.0,759.5 C85.8,759.4 86.2,759.2 89.9,758.6 C93.6,758.0 101.0,756.7 107.0,755.7 C113.0,754.8 119.8,754.0 126.1,752.9 C132.4,751.8 139.4,750.0 145.1,749.0 C150.8,748.0 155.3,748.0 160.0,747.0 C164.7,746.0 169.3,744.5 173.3,743.3 C177.3,742.1 181.1,740.7 184.0,740.0 C186.9,739.3 189.5,739.6 190.7,739.0 C191.9,738.4 189.6,737.7 191.2,736.5 C192.8,735.3 196.3,733.9 200.0,732.0 C203.7,730.1 209.8,727.3 213.3,725.3 C216.9,723.3 218.5,722.3 221.3,720.0 C224.1,717.7 227.2,714.2 230.0,711.3 C232.8,708.4 235.3,705.1 238.3,702.6 C241.3,700.1 244.7,699.5 247.9,696.0 C251.1,692.5 254.2,685.5 257.4,681.7 C260.6,677.9 263.9,676.1 266.9,673.1 C269.9,670.1 273.3,666.6 275.5,663.6 C277.7,660.6 278.6,658.1 280.2,655.0 C281.8,651.9 284.2,647.1 285.2,644.8 C286.2,642.5 285.0,643.3 286.2,641.0 C287.4,638.7 290.4,634.1 292.5,631.0 C294.6,627.9 297.1,624.8 298.6,622.4 C300.1,620.0 300.4,618.9 301.4,616.7 C302.3,614.5 303.2,611.9 304.3,609.0 C305.4,606.1 306.7,602.4 308.1,599.5 C309.5,596.6 311.3,594.4 312.9,591.9 C314.5,589.4 316.2,587.5 317.6,584.3 C319.0,581.1 320.6,576.1 321.4,572.9 C322.2,569.7 321.8,567.8 322.4,565.2 C323.0,562.7 324.1,560.1 325.2,557.6 C326.3,555.1 327.5,552.8 329.0,550.0 C330.5,547.2 332.3,543.9 334.0,540.6 C335.7,537.3 338.2,533.6 339.3,530.1 C340.4,526.6 339.8,522.8 340.3,519.7 C340.8,516.6 341.3,514.1 342.4,511.3 C343.4,508.5 345.2,506.4 346.6,502.9 C348.0,499.4 349.9,493.4 350.8,490.3 C351.7,487.2 350.9,486.4 351.8,484.0 C352.7,481.6 354.9,478.4 356.0,475.6 C357.1,472.8 357.1,470.4 358.1,467.3 C359.2,464.2 361.2,460.5 362.3,456.8 C363.4,453.1 363.9,448.0 364.4,445.2 C364.8,442.4 364.9,440.9 365.0,440.0" stroke="#e01818"/>
<path d="M85.0,757.0 C85.8,756.8 86.2,756.6 89.9,755.7 C93.6,754.9 101.0,753.2 107.0,751.9 C113.0,750.6 119.8,749.5 126.1,747.7 C132.4,746.0 139.4,743.2 145.1,741.4 C150.8,739.6 155.1,738.8 160.0,736.7 C164.9,734.6 170.0,731.3 174.4,728.7 C178.8,726.1 182.4,723.5 186.7,720.9 C191.0,718.3 195.6,716.3 200.0,713.3 C204.4,710.3 209.5,706.2 213.3,702.7 C217.1,699.2 219.2,695.8 222.7,692.0 C226.2,688.2 231.6,683.4 234.5,679.8 C237.4,676.2 238.1,673.0 240.2,670.2 C242.3,667.4 244.7,666.0 247.1,662.9 C249.5,659.8 252.2,655.2 254.8,651.4 C257.4,647.6 260.0,644.1 262.4,640.0 C264.8,635.9 267.1,630.3 269.0,626.7 C270.9,623.1 272.5,621.2 273.8,618.6 C275.1,616.0 275.6,613.9 276.7,611.0 C277.8,608.1 278.9,604.3 280.5,601.4 C282.1,598.5 284.6,596.6 286.2,593.8 C287.8,590.9 288.9,587.1 290.0,584.3 C291.1,581.4 291.5,579.2 292.9,576.7 C294.3,574.2 297.3,571.5 298.6,569.0 C299.9,566.5 299.8,564.0 300.5,561.4 C301.2,558.8 301.6,556.0 302.6,553.2 C303.7,550.4 305.9,548.3 306.8,544.8 C307.7,541.3 307.5,535.3 307.8,532.2 C308.1,529.1 308.0,528.1 308.9,526.0 C309.8,523.9 311.4,522.9 313.0,519.7 C314.6,516.5 316.7,511.2 318.3,507.0 C319.9,502.8 321.3,498.7 322.5,494.5 C323.7,490.3 324.4,486.9 325.6,482.0 C326.8,477.1 328.6,469.4 329.8,465.2 C331.0,461.0 332.1,460.1 333.0,456.8 C333.9,453.5 334.6,448.0 335.1,445.2 C335.6,442.4 335.9,440.9 336.0,440.0" stroke="#000"/>
</g>
<line x1="300.9" y1="442.6" x2="300.9" y2="783.8" stroke="#1fae6a" stroke-width="2.7" stroke-dasharray="12 11.7"/>
<path d="M111.5,554.7 L121.3,554.7 L121.3,652 L126.7,652 L116.4,661.3 L106,652 L111.5,652 Z" fill="url(#og)"/>
<path d="M149.9,661.9 L159.5,661.9 L159.5,630.7 L164.8,630.7 L154.7,621.3 L144.8,630.7 L149.9,630.7 Z" fill="url(#gg)"/>
<rect x="89.6" y="444.6" width="422.20000000000005" height="339.19999999999993" fill="none" stroke="#111" stroke-width="2"/>
<line x1="89.38999999999996" y1="783.8" x2="89.38999999999996" y2="780.3" stroke="#111" stroke-width="1.6" />
<line x1="89.38999999999996" y1="444.6" x2="89.38999999999996" y2="448.1" stroke="#111" stroke-width="1.6" />
<line x1="131.7" y1="783.8" x2="131.7" y2="776.8" stroke="#111" stroke-width="1.6" />
<line x1="131.7" y1="444.6" x2="131.7" y2="451.6" stroke="#111" stroke-width="1.6" />
<line x1="174.01000000000002" y1="783.8" x2="174.01000000000002" y2="780.3" stroke="#111" stroke-width="1.6" />
<line x1="174.01000000000002" y1="444.6" x2="174.01000000000002" y2="448.1" stroke="#111" stroke-width="1.6" />
<line x1="216.32000000000005" y1="783.8" x2="216.32000000000005" y2="776.8" stroke="#111" stroke-width="1.6" />
<line x1="216.32000000000005" y1="444.6" x2="216.32000000000005" y2="451.6" stroke="#111" stroke-width="1.6" />
<line x1="258.6300000000001" y1="783.8" x2="258.6300000000001" y2="780.3" stroke="#111" stroke-width="1.6" />
<line x1="258.6300000000001" y1="444.6" x2="258.6300000000001" y2="448.1" stroke="#111" stroke-width="1.6" />
<line x1="300.94000000000017" y1="783.8" x2="300.94000000000017" y2="776.8" stroke="#111" stroke-width="1.6" />
<line x1="300.94000000000017" y1="444.6" x2="300.94000000000017" y2="451.6" stroke="#111" stroke-width="1.6" />
<line x1="343.25000000000017" y1="783.8" x2="343.25000000000017" y2="780.3" stroke="#111" stroke-width="1.6" />
<line x1="343.25000000000017" y1="444.6" x2="343.25000000000017" y2="448.1" stroke="#111" stroke-width="1.6" />
<line x1="385.5600000000002" y1="783.8" x2="385.5600000000002" y2="776.8" stroke="#111" stroke-width="1.6" />
<line x1="385.5600000000002" y1="444.6" x2="385.5600000000002" y2="451.6" stroke="#111" stroke-width="1.6" />
<line x1="427.87000000000023" y1="783.8" x2="427.87000000000023" y2="780.3" stroke="#111" stroke-width="1.6" />
<line x1="427.87000000000023" y1="444.6" x2="427.87000000000023" y2="448.1" stroke="#111" stroke-width="1.6" />
<line x1="470.1800000000003" y1="783.8" x2="470.1800000000003" y2="776.8" stroke="#111" stroke-width="1.6" />
<line x1="470.1800000000003" y1="444.6" x2="470.1800000000003" y2="451.6" stroke="#111" stroke-width="1.6" />
<line x1="512.4900000000004" y1="783.8" x2="512.4900000000004" y2="780.3" stroke="#111" stroke-width="1.6" />
<line x1="512.4900000000004" y1="444.6" x2="512.4900000000004" y2="448.1" stroke="#111" stroke-width="1.6" />
<line x1="89.6" y1="750.3399999999999" x2="93.1" y2="750.3399999999999" stroke="#111" stroke-width="1.6" />
<line x1="511.8" y1="750.3399999999999" x2="508.3" y2="750.3399999999999" stroke="#111" stroke-width="1.6" />
<line x1="89.6" y1="716.38" x2="96.6" y2="716.38" stroke="#111" stroke-width="1.6" />
<line x1="511.8" y1="716.38" x2="504.8" y2="716.38" stroke="#111" stroke-width="1.6" />
<line x1="89.6" y1="682.42" x2="93.1" y2="682.42" stroke="#111" stroke-width="1.6" />
<line x1="511.8" y1="682.42" x2="508.3" y2="682.42" stroke="#111" stroke-width="1.6" />
<line x1="89.6" y1="648.4599999999999" x2="96.6" y2="648.4599999999999" stroke="#111" stroke-width="1.6" />
<line x1="511.8" y1="648.4599999999999" x2="504.8" y2="648.4599999999999" stroke="#111" stroke-width="1.6" />
<line x1="89.6" y1="614.5" x2="93.1" y2="614.5" stroke="#111" stroke-width="1.6" />
<line x1="511.8" y1="614.5" x2="508.3" y2="614.5" stroke="#111" stroke-width="1.6" />
<line x1="89.6" y1="580.54" x2="96.6" y2="580.54" stroke="#111" stroke-width="1.6" />
<line x1="511.8" y1="580.54" x2="504.8" y2="580.54" stroke="#111" stroke-width="1.6" />
<line x1="89.6" y1="546.5799999999999" x2="93.1" y2="546.5799999999999" stroke="#111" stroke-width="1.6" />
<line x1="511.8" y1="546.5799999999999" x2="508.3" y2="546.5799999999999" stroke="#111" stroke-width="1.6" />
<line x1="89.6" y1="512.6199999999999" x2="96.6" y2="512.6199999999999" stroke="#111" stroke-width="1.6" />
<line x1="511.8" y1="512.6199999999999" x2="504.8" y2="512.6199999999999" stroke="#111" stroke-width="1.6" />
<line x1="89.6" y1="478.65999999999997" x2="93.1" y2="478.65999999999997" stroke="#111" stroke-width="1.6" />
<line x1="511.8" y1="478.65999999999997" x2="508.3" y2="478.65999999999997" stroke="#111" stroke-width="1.6" />
<rect x="91" y="452.5" width="197" height="59.5" fill="#fff"/>
<line x1="92.3" y1="464" x2="127.3" y2="464" stroke="#000" stroke-width="2.4" />
<line x1="92.3" y1="484.9" x2="127.3" y2="484.9" stroke="#1414c8" stroke-width="2.4" />
<line x1="92.3" y1="502.8" x2="127.3" y2="502.8" stroke="#d82020" stroke-width="2.4" />
<text x="131.4" y="469.5" font-size="15" text-anchor="start" font-weight="normal" fill="#1a1a1a" >Activity (Initial cycle)</text>
<text x="131.4" y="489" font-size="15" fill="#1a1a1a">Activity (30<tspan font-size="8" dy="-6.5">th</tspan><tspan dy="6.5"> cycle)</tspan></text>
<text x="131.4" y="506.5" font-size="15" text-anchor="start" font-weight="normal" fill="#1a1a1a" >Activity after Ar purging</text>
<text x="81.5" y="789.3" font-size="14" text-anchor="end" font-weight="normal" fill="#1a1a1a" >0</text>
<text x="81.5" y="721.38" font-size="14" text-anchor="end" font-weight="normal" fill="#1a1a1a" >50</text>
<text x="81.5" y="653.4599999999999" font-size="14" text-anchor="end" font-weight="normal" fill="#1a1a1a" >100</text>
<text x="81.5" y="585.54" font-size="14" text-anchor="end" font-weight="normal" fill="#1a1a1a" >150</text>
<text x="81.5" y="517.6199999999999" font-size="14" text-anchor="end" font-weight="normal" fill="#1a1a1a" >200</text>
<text x="81.5" y="449.69999999999993" font-size="14" text-anchor="end" font-weight="normal" fill="#1a1a1a" >250</text>
<text x="131.7" y="802.8" font-size="14" text-anchor="middle" font-weight="normal" fill="#1a1a1a" >1.46</text>
<text x="216.32000000000005" y="802.8" font-size="14" text-anchor="middle" font-weight="normal" fill="#1a1a1a" >1.48</text>
<text x="300.94000000000017" y="802.8" font-size="14" text-anchor="middle" font-weight="normal" fill="#1a1a1a" >1.50</text>
<text x="385.5600000000002" y="802.8" font-size="14" text-anchor="middle" font-weight="normal" fill="#1a1a1a" >1.52</text>
<text x="470.1800000000003" y="802.8" font-size="14" text-anchor="middle" font-weight="normal" fill="#1a1a1a" >1.54</text>
<text y="830" font-size="17" fill="#1a1a1a"><tspan x="219">E</tspan><tspan font-size="10.7" dy="5.5">iR-corrected</tspan><tspan dy="-5.5"> vs RHE </tspan><tspan x="355.8">[V]</tspan></text>
<text transform="translate(33.4,645) rotate(-90)" font-size="17" fill="#1a1a1a">i<tspan font-size="11.3" dy="6">mass</tspan><tspan dy="-6"> [A/g</tspan><tspan font-size="11.3" dy="6">Ir</tspan><tspan dy="-6">]</tspan></text>
<text x="1.2" y="447" font-size="22" text-anchor="start" font-weight="bold" fill="#000" >(b)</text>
<line x1="122.82" y1="947" x2="122.82" y2="1232" stroke="#e2e2e2" stroke-width="1" stroke-dasharray="4 3"/>
<line x1="150.64" y1="947" x2="150.64" y2="1232" stroke="#d4d4d4" stroke-width="1" />
<line x1="178.46" y1="947" x2="178.46" y2="1232" stroke="#e2e2e2" stroke-width="1" stroke-dasharray="4 3"/>
<line x1="206.28" y1="947" x2="206.28" y2="1232" stroke="#d4d4d4" stroke-width="1" />
<line x1="234.1" y1="947" x2="234.1" y2="1232" stroke="#e2e2e2" stroke-width="1" stroke-dasharray="4 3"/>
<line x1="261.92" y1="947" x2="261.92" y2="1232" stroke="#d4d4d4" stroke-width="1" />
<line x1="289.74" y1="896.2" x2="289.74" y2="1232" stroke="#e2e2e2" stroke-width="1" stroke-dasharray="4 3"/>
<line x1="317.56" y1="896.2" x2="317.56" y2="1232" stroke="#d4d4d4" stroke-width="1" />
<line x1="345.38" y1="896.2" x2="345.38" y2="1232" stroke="#e2e2e2" stroke-width="1" stroke-dasharray="4 3"/>
<line x1="373.2" y1="896.2" x2="373.2" y2="1232" stroke="#d4d4d4" stroke-width="1" />
<line x1="401.02" y1="896.2" x2="401.02" y2="1232" stroke="#e2e2e2" stroke-width="1" stroke-dasharray="4 3"/>
<line x1="428.84000000000003" y1="896.2" x2="428.84000000000003" y2="1232" stroke="#d4d4d4" stroke-width="1" />
<line x1="456.66" y1="896.2" x2="456.66" y2="1232" stroke="#e2e2e2" stroke-width="1" stroke-dasharray="4 3"/>
<line x1="484.48" y1="896.2" x2="484.48" y2="1232" stroke="#d4d4d4" stroke-width="1" />
<line x1="94.8" y1="1190.3625" x2="512" y2="1190.3625" stroke="#e2e2e2" stroke-width="1" stroke-dasharray="4 3"/>
<line x1="94.8" y1="1148.425" x2="512" y2="1148.425" stroke="#d4d4d4" stroke-width="1" />
<line x1="94.8" y1="1106.4875" x2="512" y2="1106.4875" stroke="#e2e2e2" stroke-width="1" stroke-dasharray="4 3"/>
<line x1="94.8" y1="1064.55" x2="512" y2="1064.55" stroke="#d4d4d4" stroke-width="1" />
<line x1="94.8" y1="1022.6125" x2="512" y2="1022.6125" stroke="#e2e2e2" stroke-width="1" stroke-dasharray="4 3"/>
<line x1="94.8" y1="980.675" x2="512" y2="980.675" stroke="#d4d4d4" stroke-width="1" />
<line x1="282" y1="938.7375" x2="512" y2="938.7375" stroke="#e2e2e2" stroke-width="1" stroke-dasharray="4 3"/>
<line x1="150.6" y1="1041.2" x2="150.6" y2="1062.4" stroke="#808080" stroke-width="1"/>
<line x1="147.4" y1="1041.2" x2="153.8" y2="1041.2" stroke="#808080" stroke-width="1"/>
<line x1="147.4" y1="1062.4" x2="153.8" y2="1062.4" stroke="#808080" stroke-width="1"/>
<line x1="150.6" y1="1132.3" x2="150.6" y2="1157.1" stroke="#6f78e0" stroke-width="1"/>
<line x1="147.4" y1="1132.3" x2="153.8" y2="1132.3" stroke="#6f78e0" stroke-width="1"/>
<line x1="147.4" y1="1157.1" x2="153.8" y2="1157.1" stroke="#6f78e0" stroke-width="1"/>
<rect x="147.0" y="1045.5" width="7.2" height="7.2" fill="#000"/>
<rect x="147.0" y="1139.5" width="7.2" height="7.2" fill="#0010e0"/>
<line x1="220.2" y1="1026.3" x2="220.2" y2="1094.2" stroke="#808080" stroke-width="1"/>
<line x1="217.0" y1="1026.3" x2="223.4" y2="1026.3" stroke="#808080" stroke-width="1"/>
<line x1="217.0" y1="1094.2" x2="223.4" y2="1094.2" stroke="#808080" stroke-width="1"/>
<line x1="220.2" y1="1111.9" x2="220.2" y2="1168.4" stroke="#6f78e0" stroke-width="1"/>
<line x1="217.0" y1="1111.9" x2="223.4" y2="1111.9" stroke="#6f78e0" stroke-width="1"/>
<line x1="217.0" y1="1168.4" x2="223.4" y2="1168.4" stroke="#6f78e0" stroke-width="1"/>
<rect x="216.6" y="1046.7" width="7.2" height="7.2" fill="#000"/>
<rect x="216.6" y="1139.0" width="7.2" height="7.2" fill="#0010e0"/>
<line x1="317.6" y1="958.9" x2="317.6" y2="1051.5" stroke="#808080" stroke-width="1"/>
<line x1="314.4" y1="958.9" x2="320.8" y2="958.9" stroke="#808080" stroke-width="1"/>
<line x1="314.4" y1="1051.5" x2="320.8" y2="1051.5" stroke="#808080" stroke-width="1"/>
<line x1="317.6" y1="1128.3" x2="317.6" y2="1133.7" stroke="#6f78e0" stroke-width="1"/>
<line x1="314.4" y1="1128.3" x2="320.8" y2="1128.3" stroke="#6f78e0" stroke-width="1"/>
<line x1="314.4" y1="1133.7" x2="320.8" y2="1133.7" stroke="#6f78e0" stroke-width="1"/>
<rect x="314.0" y="1015.7" width="7.2" height="7.2" fill="#000"/>
<rect x="314.0" y="1127.4" width="7.2" height="7.2" fill="#0010e0"/>
<line x1="442.8" y1="949.5" x2="442.8" y2="1037.4" stroke="#808080" stroke-width="1"/>
<line x1="439.6" y1="949.5" x2="445.9" y2="949.5" stroke="#808080" stroke-width="1"/>
<line x1="439.6" y1="1037.4" x2="445.9" y2="1037.4" stroke="#808080" stroke-width="1"/>
<line x1="442.8" y1="1045.4" x2="442.8" y2="1120.7" stroke="#6f78e0" stroke-width="1"/>
<line x1="439.6" y1="1045.4" x2="445.9" y2="1045.4" stroke="#6f78e0" stroke-width="1"/>
<line x1="439.6" y1="1120.7" x2="445.9" y2="1120.7" stroke="#6f78e0" stroke-width="1"/>
<rect x="439.1" y="982.8" width="7.2" height="7.2" fill="#000"/>
<rect x="439.1" y="1078.7" width="7.2" height="7.2" fill="#0010e0"/>
<rect x="114.6" y="911.1" width="7.4" height="7.2" fill="#000"/>
<rect x="114.6" y="932.6" width="7.4" height="7.4" fill="#0010e0"/>
<text x="136.5" y="919.8" font-size="15.5" text-anchor="start" font-weight="normal" fill="#1a1a1a" >activity (Initial cycle)</text>
<text x="136.5" y="941.1" font-size="15.5" fill="#1a1a1a">activity (30<tspan font-size="9" dy="-7">th</tspan><tspan dy="7"> cycle)</tspan></text>
<rect x="94.8" y="896.2" width="417.2" height="335.79999999999995" fill="none" stroke="#111" stroke-width="2"/>
<line x1="122.82" y1="1232" x2="122.82" y2="1228.5" stroke="#111" stroke-width="1.6" />
<line x1="122.82" y1="896.2" x2="122.82" y2="899.7" stroke="#111" stroke-width="1.6" />
<line x1="150.64" y1="1232" x2="150.64" y2="1225" stroke="#111" stroke-width="1.6" />
<line x1="150.64" y1="896.2" x2="150.64" y2="903.2" stroke="#111" stroke-width="1.6" />
<line x1="178.46" y1="1232" x2="178.46" y2="1228.5" stroke="#111" stroke-width="1.6" />
<line x1="178.46" y1="896.2" x2="178.46" y2="899.7" stroke="#111" stroke-width="1.6" />
<line x1="206.28" y1="1232" x2="206.28" y2="1225" stroke="#111" stroke-width="1.6" />
<line x1="206.28" y1="896.2" x2="206.28" y2="903.2" stroke="#111" stroke-width="1.6" />
<line x1="234.1" y1="1232" x2="234.1" y2="1228.5" stroke="#111" stroke-width="1.6" />
<line x1="234.1" y1="896.2" x2="234.1" y2="899.7" stroke="#111" stroke-width="1.6" />
<line x1="261.92" y1="1232" x2="261.92" y2="1225" stroke="#111" stroke-width="1.6" />
<line x1="261.92" y1="896.2" x2="261.92" y2="903.2" stroke="#111" stroke-width="1.6" />
<line x1="289.74" y1="1232" x2="289.74" y2="1228.5" stroke="#111" stroke-width="1.6" />
<line x1="289.74" y1="896.2" x2="289.74" y2="899.7" stroke="#111" stroke-width="1.6" />
<line x1="317.56" y1="1232" x2="317.56" y2="1225" stroke="#111" stroke-width="1.6" />
<line x1="317.56" y1="896.2" x2="317.56" y2="903.2" stroke="#111" stroke-width="1.6" />
<line x1="345.38" y1="1232" x2="345.38" y2="1228.5" stroke="#111" stroke-width="1.6" />
<line x1="345.38" y1="896.2" x2="345.38" y2="899.7" stroke="#111" stroke-width="1.6" />
<line x1="373.2" y1="1232" x2="373.2" y2="1225" stroke="#111" stroke-width="1.6" />
<line x1="373.2" y1="896.2" x2="373.2" y2="903.2" stroke="#111" stroke-width="1.6" />
<line x1="401.02" y1="1232" x2="401.02" y2="1228.5" stroke="#111" stroke-width="1.6" />
<line x1="401.02" y1="896.2" x2="401.02" y2="899.7" stroke="#111" stroke-width="1.6" />
<line x1="428.84000000000003" y1="1232" x2="428.84000000000003" y2="1225" stroke="#111" stroke-width="1.6" />
<line x1="428.84000000000003" y1="896.2" x2="428.84000000000003" y2="903.2" stroke="#111" stroke-width="1.6" />
<line x1="456.66" y1="1232" x2="456.66" y2="1228.5" stroke="#111" stroke-width="1.6" />
<line x1="456.66" y1="896.2" x2="456.66" y2="899.7" stroke="#111" stroke-width="1.6" />
<line x1="484.48" y1="1232" x2="484.48" y2="1225" stroke="#111" stroke-width="1.6" />
<line x1="484.48" y1="896.2" x2="484.48" y2="903.2" stroke="#111" stroke-width="1.6" />
<line x1="94.8" y1="1190.3625" x2="98.3" y2="1190.3625" stroke="#111" stroke-width="1.6" />
<line x1="512" y1="1190.3625" x2="508.5" y2="1190.3625" stroke="#111" stroke-width="1.6" />
<line x1="94.8" y1="1148.425" x2="101.8" y2="1148.425" stroke="#111" stroke-width="1.6" />
<line x1="512" y1="1148.425" x2="505" y2="1148.425" stroke="#111" stroke-width="1.6" />
<line x1="94.8" y1="1106.4875" x2="98.3" y2="1106.4875" stroke="#111" stroke-width="1.6" />
<line x1="512" y1="1106.4875" x2="508.5" y2="1106.4875" stroke="#111" stroke-width="1.6" />
<line x1="94.8" y1="1064.55" x2="101.8" y2="1064.55" stroke="#111" stroke-width="1.6" />
<line x1="512" y1="1064.55" x2="505" y2="1064.55" stroke="#111" stroke-width="1.6" />
<line x1="94.8" y1="1022.6125" x2="98.3" y2="1022.6125" stroke="#111" stroke-width="1.6" />
<line x1="512" y1="1022.6125" x2="508.5" y2="1022.6125" stroke="#111" stroke-width="1.6" />
<line x1="94.8" y1="980.675" x2="101.8" y2="980.675" stroke="#111" stroke-width="1.6" />
<line x1="512" y1="980.675" x2="505" y2="980.675" stroke="#111" stroke-width="1.6" />
<line x1="94.8" y1="938.7375" x2="98.3" y2="938.7375" stroke="#111" stroke-width="1.6" />
<line x1="512" y1="938.7375" x2="508.5" y2="938.7375" stroke="#111" stroke-width="1.6" />
<text x="87" y="1237.3" font-size="14" text-anchor="end" font-weight="normal" fill="#1a1a1a" >0</text>
<text x="87" y="1153.425" font-size="14" text-anchor="end" font-weight="normal" fill="#1a1a1a" >50</text>
<text x="87" y="1069.55" font-size="14" text-anchor="end" font-weight="normal" fill="#1a1a1a" >100</text>
<text x="87" y="985.675" font-size="14" text-anchor="end" font-weight="normal" fill="#1a1a1a" >150</text>
<text x="87" y="901.8" font-size="14" text-anchor="end" font-weight="normal" fill="#1a1a1a" >200</text>
<text x="95.0" y="1251" font-size="14" text-anchor="middle" font-weight="normal" fill="#1a1a1a" >0</text>
<text x="150.64" y="1251" font-size="14" text-anchor="middle" font-weight="normal" fill="#1a1a1a" >400</text>
<text x="206.28" y="1251" font-size="14" text-anchor="middle" font-weight="normal" fill="#1a1a1a" >800</text>
<text x="261.92" y="1251" font-size="14" text-anchor="middle" font-weight="normal" fill="#1a1a1a" >1200</text>
<text x="317.56" y="1251" font-size="14" text-anchor="middle" font-weight="normal" fill="#1a1a1a" >1600</text>
<text x="373.2" y="1251" font-size="14" text-anchor="middle" font-weight="normal" fill="#1a1a1a" >2000</text>
<text x="428.84000000000003" y="1251" font-size="14" text-anchor="middle" font-weight="normal" fill="#1a1a1a" >2400</text>
<text x="484.48" y="1251" font-size="14" text-anchor="middle" font-weight="normal" fill="#1a1a1a" >2800</text>
<text x="303.5" y="1275.5" font-size="17.5" text-anchor="middle" font-weight="normal" fill="#1a1a1a" >RPM</text>
<text transform="translate(50.7,1102.6) rotate(-90)" font-size="17" fill="#1a1a1a">i<tspan font-size="11.3" dy="6">mass</tspan><tspan dy="-6"> [A/g</tspan><tspan font-size="11.3" dy="6">Ir</tspan><tspan dy="-6">]</tspan></text>
<text x="0.3" y="887" font-size="22" text-anchor="start" font-weight="bold" fill="#000" >(c)</text>
</svg></body></html>
